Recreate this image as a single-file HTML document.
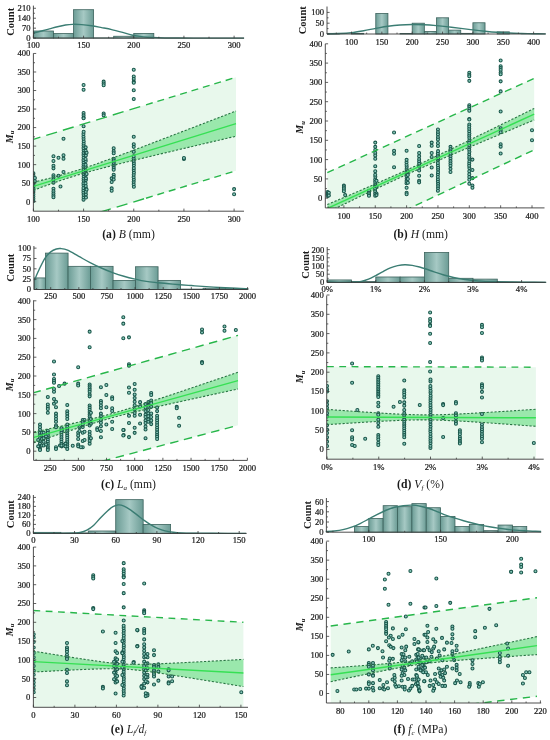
<!DOCTYPE html><html><head><meta charset="utf-8"><title>Figure</title><style>html,body{margin:0;padding:0;background:#fff}svg{display:block}</style></head><body><svg width="550" height="740" viewBox="0 0 550 740" font-family="'Liberation Serif', serif" fill="#1a1a1a">
<defs><linearGradient id="bg" x1="0" x2="1" y1="0" y2="0"><stop offset="0" stop-color="#6b9c95"/><stop offset="0.5" stop-color="#a6c9c4"/><stop offset="1" stop-color="#6b9c95"/></linearGradient></defs>
<rect width="550" height="740" fill="#fff"/>
<g>
<rect x="33.4" y="31" width="20.07" height="7.1" fill="url(#bg)" stroke="#3c635d" stroke-width="0.8"/>
<rect x="53.47" y="33.56" width="20.07" height="4.54" fill="url(#bg)" stroke="#3c635d" stroke-width="0.8"/>
<rect x="73.54" y="9.7" width="20.07" height="28.4" fill="url(#bg)" stroke="#3c635d" stroke-width="0.8"/>
<rect x="93.61" y="37.89" width="20.07" height="0.21" fill="url(#bg)" stroke="#3c635d" stroke-width="0.8"/>
<rect x="113.68" y="36.25" width="20.07" height="1.85" fill="url(#bg)" stroke="#3c635d" stroke-width="0.8"/>
<rect x="133.75" y="33.41" width="20.07" height="4.69" fill="url(#bg)" stroke="#3c635d" stroke-width="0.8"/>
<path d="M33.4 32.99C34.74 32.66 38.75 31.69 41.43 31C44.1 30.31 46.78 29.58 49.46 28.87C52.13 28.16 54.81 27.38 57.48 26.74C60.16 26.1 63 25.44 65.51 25.04C68.02 24.63 69.86 24.4 72.54 24.33C75.21 24.26 78.39 24.37 81.57 24.61C84.75 24.85 88.26 25.25 91.6 25.75C94.95 26.24 98.29 26.95 101.64 27.59C104.98 28.23 108.33 28.82 111.67 29.58C115.02 30.34 118.36 31.24 121.71 32.14C125.05 33.04 128.73 34.27 131.74 34.98C134.75 35.69 137.1 36.02 139.77 36.4C142.45 36.77 144.79 37.02 147.8 37.25C150.81 37.47 153.49 37.61 157.83 37.75C162.18 37.88 167.87 37.97 173.89 38.03C179.91 38.09 182.25 38.09 193.96 38.1C205.67 38.11 235.77 38.1 244.14 38.1" fill="none" stroke="#3b7d73" stroke-width="1.4"/>
<path d="M33.4 5.6V38.1H244" fill="none" stroke="#3a3a3a" stroke-width="0.9"/>
<text x="30.5" y="41" font-size="8.6" text-anchor="end" stroke="#1a1a1a" stroke-width="0.22" >0</text>
<text x="30.5" y="31.06" font-size="8.6" text-anchor="end" stroke="#1a1a1a" stroke-width="0.22" >70</text>
<text x="30.5" y="21.12" font-size="8.6" text-anchor="end" stroke="#1a1a1a" stroke-width="0.22" >140</text>
<text x="30.5" y="11.18" font-size="8.6" text-anchor="end" stroke="#1a1a1a" stroke-width="0.22" >210</text>
<text x="33.4" y="48" font-size="8.6" text-anchor="middle" stroke="#1a1a1a" stroke-width="0.22" >100</text>
<text x="83.58" y="48" font-size="8.6" text-anchor="middle" stroke="#1a1a1a" stroke-width="0.22" >150</text>
<text x="133.75" y="48" font-size="8.6" text-anchor="middle" stroke="#1a1a1a" stroke-width="0.22" >200</text>
<text x="183.93" y="48" font-size="8.6" text-anchor="middle" stroke="#1a1a1a" stroke-width="0.22" >250</text>
<text x="234.1" y="48" font-size="8.6" text-anchor="middle" stroke="#1a1a1a" stroke-width="0.22" >300</text>
<path d="M33.4 38.1h2.6M33.4 28.16h2.6M33.4 18.22h2.6M33.4 8.28h2.6M33.4 33.13h1.5M33.4 23.19h1.5M33.4 13.25h1.5M33.4 38.1v-2.4M83.58 38.1v-2.4M133.75 38.1v-2.4M183.93 38.1v-2.4M234.1 38.1v-2.4M58.49 38.1v-1.4M108.66 38.1v-1.4M158.84 38.1v-1.4M209.01 38.1v-1.4" stroke="#3a3a3a" stroke-width="0.8" fill="none"/>
<text transform="translate(13.8 21.85) rotate(-90)" font-size="10.5" font-weight="bold" text-anchor="middle">Count</text>
</g>
<clipPath id="cpa"><rect x="33.4" y="50.4" width="212.6" height="160.8"/></clipPath>
<g clip-path="url(#cpa)">
<path d="M33.4 139.3 L38.46 137.75 L43.53 136.2 L48.59 134.65 L53.66 133.1 L58.72 131.55 L63.79 130 L68.85 128.45 L73.92 126.9 L78.98 125.35 L84.05 123.8 L89.11 122.25 L94.18 120.7 L99.25 119.15 L104.31 117.6 L109.38 116.05 L114.44 114.5 L119.5 112.95 L124.57 111.4 L129.63 109.85 L134.7 108.3 L139.76 106.75 L144.83 105.2 L149.9 103.65 L154.96 102.1 L160.03 100.55 L165.09 99 L170.16 97.45 L175.22 95.9 L180.28 94.35 L185.35 92.8 L190.41 91.25 L195.48 89.7 L200.55 88.15 L205.61 86.6 L210.68 85.05 L215.74 83.5 L220.81 81.95 L225.87 80.4 L230.94 78.85 L236 77.3 L236 170.8 L230.94 172.34 L225.87 173.89 L220.81 175.43 L215.74 176.97 L210.68 178.51 L205.61 180.06 L200.55 181.6 L195.48 183.14 L190.41 184.68 L185.35 186.23 L180.28 187.77 L175.22 189.31 L170.16 190.85 L165.09 192.4 L160.03 193.94 L154.96 195.48 L149.9 197.02 L144.83 198.57 L139.76 200.11 L134.7 201.65 L129.63 203.19 L124.57 204.74 L119.5 206.28 L114.44 207.82 L109.38 209.36 L104.31 210.91 L99.25 211.2 L94.18 211.2 L89.11 211.2 L84.05 211.2 L78.98 211.2 L73.92 211.2 L68.85 211.2 L63.79 211.2 L58.72 211.2 L53.66 211.2 L48.59 211.2 L43.53 211.2 L38.46 211.2 L33.4 211.2Z" fill="#e8f8ec"/>
<path d="M33.4 182.3 L38.46 181.03 L43.53 179.75 L48.59 178.45 L53.66 177.12 L58.72 175.75 L63.79 174.34 L68.85 172.87 L73.92 171.35 L78.98 169.76 L84.05 168.12 L89.11 166.42 L94.18 164.67 L99.25 162.88 L104.31 161.06 L109.38 159.21 L114.44 157.35 L119.5 155.47 L124.57 153.58 L129.63 151.68 L134.7 149.77 L139.76 147.86 L144.83 145.94 L149.9 144.01 L154.96 142.08 L160.03 140.15 L165.09 138.22 L170.16 136.28 L175.22 134.34 L180.28 132.4 L185.35 130.46 L190.41 128.52 L195.48 126.58 L200.55 124.63 L205.61 122.69 L210.68 120.74 L215.74 118.79 L220.81 116.85 L225.87 114.9 L230.94 112.95 L236 111 L236 136.2 L230.94 137.38 L225.87 138.57 L220.81 139.76 L215.74 140.95 L210.68 142.13 L205.61 143.32 L200.55 144.51 L195.48 145.7 L190.41 146.89 L185.35 148.09 L180.28 149.28 L175.22 150.48 L170.16 151.67 L165.09 152.87 L160.03 154.07 L154.96 155.28 L149.9 156.48 L144.83 157.69 L139.76 158.91 L134.7 160.13 L129.63 161.36 L124.57 162.59 L119.5 163.83 L114.44 165.09 L109.38 166.36 L104.31 167.65 L99.25 168.97 L94.18 170.31 L89.11 171.7 L84.05 173.13 L78.98 174.62 L73.92 176.17 L68.85 177.78 L63.79 179.45 L58.72 181.18 L53.66 182.94 L48.59 184.75 L43.53 186.58 L38.46 188.43 L33.4 190.3Z" fill="#9ae8ac"/>
</g>
<g clip-path="url(#cpa)" fill="#8acabc" stroke="#1a564a" stroke-width="1.05">
<circle cx="33.4" cy="200.96" r="1.5"/>
<circle cx="33.4" cy="198.74" r="1.5"/>
<circle cx="33.4" cy="196.51" r="1.5"/>
<circle cx="33.4" cy="194.29" r="1.5"/>
<circle cx="33.4" cy="192.06" r="1.5"/>
<circle cx="33.4" cy="190.21" r="1.5"/>
<circle cx="33.4" cy="188.36" r="1.5"/>
<circle cx="33.4" cy="186.51" r="1.5"/>
<circle cx="33.4" cy="184.65" r="1.5"/>
<circle cx="33.4" cy="182.8" r="1.5"/>
<circle cx="33.4" cy="180.95" r="1.5"/>
<circle cx="33.4" cy="179.09" r="1.5"/>
<circle cx="33.4" cy="177.24" r="1.5"/>
<circle cx="33.4" cy="175.39" r="1.5"/>
<circle cx="33.4" cy="173.16" r="1.5"/>
<circle cx="34.91" cy="177.98" r="1.5"/>
<circle cx="34.91" cy="181.32" r="1.5"/>
<circle cx="53.47" cy="156.23" r="1.5"/>
<circle cx="53.47" cy="160.93" r="1.5"/>
<circle cx="53.47" cy="165.75" r="1.5"/>
<circle cx="53.47" cy="168.35" r="1.5"/>
<circle cx="53.47" cy="175.17" r="1.5"/>
<circle cx="53.47" cy="177.24" r="1.5"/>
<circle cx="53.47" cy="179.46" r="1.5"/>
<circle cx="53.47" cy="182.8" r="1.5"/>
<circle cx="53.47" cy="188.73" r="1.5"/>
<circle cx="53.47" cy="191.32" r="1.5"/>
<circle cx="53.47" cy="193.55" r="1.5"/>
<circle cx="53.47" cy="195.4" r="1.5"/>
<circle cx="53.47" cy="197.25" r="1.5"/>
<circle cx="58.49" cy="157.75" r="1.5"/>
<circle cx="58.49" cy="175.76" r="1.5"/>
<circle cx="60.49" cy="186.51" r="1.5"/>
<circle cx="63.5" cy="138.7" r="1.5"/>
<circle cx="63.5" cy="155.19" r="1.5"/>
<circle cx="63.5" cy="158.71" r="1.5"/>
<circle cx="63.5" cy="172.05" r="1.5"/>
<circle cx="83.58" cy="84.96" r="1.5"/>
<circle cx="83.58" cy="89.78" r="1.5"/>
<circle cx="83.58" cy="112.94" r="1.5"/>
<circle cx="83.58" cy="115.35" r="1.5"/>
<circle cx="83.58" cy="117.57" r="1.5"/>
<circle cx="83.58" cy="118.31" r="1.5"/>
<circle cx="83.58" cy="126.25" r="1.5"/>
<circle cx="83.53" cy="199.64" r="1.5"/>
<circle cx="83.61" cy="197.34" r="1.5"/>
<circle cx="83.58" cy="194.87" r="1.5"/>
<circle cx="83.47" cy="192.47" r="1.5"/>
<circle cx="83.46" cy="190.17" r="1.5"/>
<circle cx="83.47" cy="187.99" r="1.5"/>
<circle cx="83.56" cy="185.32" r="1.5"/>
<circle cx="83.48" cy="183.26" r="1.5"/>
<circle cx="83.61" cy="180.59" r="1.5"/>
<circle cx="83.59" cy="178.51" r="1.5"/>
<circle cx="83.69" cy="176.34" r="1.5"/>
<circle cx="83.66" cy="173.89" r="1.5"/>
<circle cx="83.49" cy="171.64" r="1.5"/>
<circle cx="83.53" cy="168.98" r="1.5"/>
<circle cx="83.5" cy="166.75" r="1.5"/>
<circle cx="83.61" cy="164.51" r="1.5"/>
<circle cx="83.59" cy="162.32" r="1.5"/>
<circle cx="83.47" cy="159.92" r="1.5"/>
<circle cx="83.62" cy="157.48" r="1.5"/>
<circle cx="83.53" cy="155.08" r="1.5"/>
<circle cx="83.56" cy="152.87" r="1.5"/>
<circle cx="83.65" cy="150.35" r="1.5"/>
<circle cx="83.51" cy="148.08" r="1.5"/>
<circle cx="83.58" cy="145.6" r="1.5"/>
<circle cx="83.63" cy="143.54" r="1.5"/>
<circle cx="83.69" cy="141.29" r="1.5"/>
<circle cx="83.56" cy="138.65" r="1.5"/>
<circle cx="83.49" cy="136.44" r="1.5"/>
<circle cx="83.46" cy="134.02" r="1.5"/>
<circle cx="83.64" cy="131.73" r="1.5"/>
<circle cx="85.97" cy="197.51" r="1.5"/>
<circle cx="85.88" cy="194.38" r="1.5"/>
<circle cx="85.82" cy="191.83" r="1.5"/>
<circle cx="85.95" cy="188.42" r="1.5"/>
<circle cx="85.77" cy="186.06" r="1.5"/>
<circle cx="85.56" cy="183.26" r="1.5"/>
<circle cx="85.86" cy="180.12" r="1.5"/>
<circle cx="85.94" cy="178.35" r="1.5"/>
<circle cx="85.73" cy="175.08" r="1.5"/>
<circle cx="85.54" cy="172.62" r="1.5"/>
<circle cx="85.62" cy="170.35" r="1.5"/>
<circle cx="85.56" cy="166.72" r="1.5"/>
<circle cx="85.6" cy="164.69" r="1.5"/>
<circle cx="85.73" cy="161.09" r="1.5"/>
<circle cx="85.57" cy="158.93" r="1.5"/>
<circle cx="85.81" cy="155.59" r="1.5"/>
<circle cx="85.94" cy="152.87" r="1.5"/>
<circle cx="85.67" cy="150.75" r="1.5"/>
<circle cx="85.71" cy="147.36" r="1.5"/>
<circle cx="86.59" cy="152.78" r="1.5"/>
<circle cx="86.59" cy="173.91" r="1.5"/>
<circle cx="86.59" cy="189.47" r="1.5"/>
<circle cx="103.65" cy="81.63" r="1.5"/>
<circle cx="103.65" cy="83.55" r="1.5"/>
<circle cx="103.65" cy="85.33" r="1.5"/>
<circle cx="103.65" cy="113.5" r="1.5"/>
<circle cx="103.65" cy="115.35" r="1.5"/>
<circle cx="111.67" cy="178.35" r="1.5"/>
<circle cx="111.67" cy="182.06" r="1.5"/>
<circle cx="111.67" cy="188.36" r="1.5"/>
<circle cx="111.67" cy="190.77" r="1.5"/>
<circle cx="113.68" cy="148.33" r="1.5"/>
<circle cx="113.68" cy="151.3" r="1.5"/>
<circle cx="113.68" cy="153.15" r="1.5"/>
<circle cx="113.68" cy="158.71" r="1.5"/>
<circle cx="113.68" cy="160.56" r="1.5"/>
<circle cx="113.68" cy="162.42" r="1.5"/>
<circle cx="113.68" cy="164.27" r="1.5"/>
<circle cx="113.68" cy="166.12" r="1.5"/>
<circle cx="113.68" cy="167.98" r="1.5"/>
<circle cx="113.68" cy="169.83" r="1.5"/>
<circle cx="113.68" cy="174.65" r="1.5"/>
<circle cx="113.68" cy="176.87" r="1.5"/>
<circle cx="113.68" cy="179.46" r="1.5"/>
<circle cx="133.75" cy="69.77" r="1.5"/>
<circle cx="133.75" cy="76.55" r="1.5"/>
<circle cx="133.75" cy="79.03" r="1.5"/>
<circle cx="133.75" cy="81.63" r="1.5"/>
<circle cx="133.75" cy="82.74" r="1.5"/>
<circle cx="133.75" cy="90.33" r="1.5"/>
<circle cx="133.75" cy="99.04" r="1.5"/>
<circle cx="133.75" cy="136.84" r="1.5"/>
<circle cx="133.75" cy="144.26" r="1.5"/>
<circle cx="133.75" cy="146.85" r="1.5"/>
<circle cx="133.75" cy="151.67" r="1.5"/>
<circle cx="133.86" cy="186.67" r="1.5"/>
<circle cx="133.67" cy="184.3" r="1.5"/>
<circle cx="133.69" cy="181.84" r="1.5"/>
<circle cx="133.77" cy="179.61" r="1.5"/>
<circle cx="133.63" cy="177.2" r="1.5"/>
<circle cx="133.72" cy="174.8" r="1.5"/>
<circle cx="133.86" cy="172.41" r="1.5"/>
<circle cx="133.75" cy="170.11" r="1.5"/>
<circle cx="133.79" cy="168.04" r="1.5"/>
<circle cx="133.85" cy="165.36" r="1.5"/>
<circle cx="133.84" cy="163.02" r="1.5"/>
<circle cx="133.72" cy="160.87" r="1.5"/>
<circle cx="133.65" cy="158.43" r="1.5"/>
<circle cx="133.64" cy="156.36" r="1.5"/>
<circle cx="183.93" cy="159.08" r="1.5"/>
<circle cx="183.93" cy="157.97" r="1.5"/>
<circle cx="234.1" cy="189.1" r="1.5"/>
<circle cx="234.1" cy="194.29" r="1.5"/>
</g>
<g clip-path="url(#cpa)">
<path d="M33.4 182.3 L38.46 181.03 L43.53 179.75 L48.59 178.45 L53.66 177.12 L58.72 175.75 L63.79 174.34 L68.85 172.87 L73.92 171.35 L78.98 169.76 L84.05 168.12 L89.11 166.42 L94.18 164.67 L99.25 162.88 L104.31 161.06 L109.38 159.21 L114.44 157.35 L119.5 155.47 L124.57 153.58 L129.63 151.68 L134.7 149.77 L139.76 147.86 L144.83 145.94 L149.9 144.01 L154.96 142.08 L160.03 140.15 L165.09 138.22 L170.16 136.28 L175.22 134.34 L180.28 132.4 L185.35 130.46 L190.41 128.52 L195.48 126.58 L200.55 124.63 L205.61 122.69 L210.68 120.74 L215.74 118.79 L220.81 116.85 L225.87 114.9 L230.94 112.95 L236 111" fill="none" stroke="#2a7444" stroke-width="1.1" stroke-dasharray="2.2 1.7"/>
<path d="M33.4 190.3 L38.46 188.43 L43.53 186.58 L48.59 184.75 L53.66 182.94 L58.72 181.18 L63.79 179.45 L68.85 177.78 L73.92 176.17 L78.98 174.62 L84.05 173.13 L89.11 171.7 L94.18 170.31 L99.25 168.97 L104.31 167.65 L109.38 166.36 L114.44 165.09 L119.5 163.83 L124.57 162.59 L129.63 161.36 L134.7 160.13 L139.76 158.91 L144.83 157.69 L149.9 156.48 L154.96 155.28 L160.03 154.07 L165.09 152.87 L170.16 151.67 L175.22 150.48 L180.28 149.28 L185.35 148.09 L190.41 146.89 L195.48 145.7 L200.55 144.51 L205.61 143.32 L210.68 142.13 L215.74 140.95 L220.81 139.76 L225.87 138.57 L230.94 137.38 L236 136.2" fill="none" stroke="#2a7444" stroke-width="1.1" stroke-dasharray="2.2 1.7"/>
<path d="M33.4 186.3L236 123.6" stroke="#36e054" stroke-width="1.4"/>
<path d="M33.4 139.3L146 104.84" fill="none" stroke="#27b64a" stroke-width="1.4" stroke-dasharray="11.3 6.1" stroke-dashoffset="4"/>
<path d="M33.4 232.5L146 198.21" fill="none" stroke="#27b64a" stroke-width="1.4" stroke-dasharray="11.3 6.1" stroke-dashoffset="0"/>
<path d="M146 104.84L236 77.3" fill="none" stroke="#27b64a" stroke-width="1.4" stroke-dasharray="7 4.9" stroke-dashoffset="0"/>
<path d="M146 198.21L236 170.8" fill="none" stroke="#27b64a" stroke-width="1.4" stroke-dasharray="7 4.9" stroke-dashoffset="0"/>
</g>
<path d="M33.4 53.4V211.2H244" fill="none" stroke="#3a3a3a" stroke-width="0.9"/>
<text x="30.4" y="204.6" font-size="8.6" text-anchor="end" stroke="#1a1a1a" stroke-width="0.22" >0</text>
<text x="30.4" y="186.07" font-size="8.6" text-anchor="end" stroke="#1a1a1a" stroke-width="0.22" >50</text>
<text x="30.4" y="167.54" font-size="8.6" text-anchor="end" stroke="#1a1a1a" stroke-width="0.22" >100</text>
<text x="30.4" y="149.01" font-size="8.6" text-anchor="end" stroke="#1a1a1a" stroke-width="0.22" >150</text>
<text x="30.4" y="130.48" font-size="8.6" text-anchor="end" stroke="#1a1a1a" stroke-width="0.22" >200</text>
<text x="30.4" y="111.95" font-size="8.6" text-anchor="end" stroke="#1a1a1a" stroke-width="0.22" >250</text>
<text x="30.4" y="93.42" font-size="8.6" text-anchor="end" stroke="#1a1a1a" stroke-width="0.22" >300</text>
<text x="30.4" y="74.89" font-size="8.6" text-anchor="end" stroke="#1a1a1a" stroke-width="0.22" >350</text>
<text x="30.4" y="56.36" font-size="8.6" text-anchor="end" stroke="#1a1a1a" stroke-width="0.22" >400</text>
<text x="33.4" y="222.1" font-size="8.6" text-anchor="middle" stroke="#1a1a1a" stroke-width="0.22" >100</text>
<text x="83.58" y="222.1" font-size="8.6" text-anchor="middle" stroke="#1a1a1a" stroke-width="0.22" >150</text>
<text x="133.75" y="222.1" font-size="8.6" text-anchor="middle" stroke="#1a1a1a" stroke-width="0.22" >200</text>
<text x="183.93" y="222.1" font-size="8.6" text-anchor="middle" stroke="#1a1a1a" stroke-width="0.22" >250</text>
<text x="234.1" y="222.1" font-size="8.6" text-anchor="middle" stroke="#1a1a1a" stroke-width="0.22" >300</text>
<path d="M33.4 201.7h2.8M33.4 183.17h2.8M33.4 164.64h2.8M33.4 146.11h2.8M33.4 127.58h2.8M33.4 109.05h2.8M33.4 90.52h2.8M33.4 71.99h2.8M33.4 53.46h2.8M33.4 192.44h1.6M33.4 173.91h1.6M33.4 155.38h1.6M33.4 136.84h1.6M33.4 118.31h1.6M33.4 99.78h1.6M33.4 81.25h1.6M33.4 62.72h1.6M33.4 211.2v-2.6M83.58 211.2v-2.6M133.75 211.2v-2.6M183.93 211.2v-2.6M234.1 211.2v-2.6M58.49 211.2v-1.5M108.66 211.2v-1.5M158.84 211.2v-1.5M209.01 211.2v-1.5" stroke="#3a3a3a" stroke-width="0.8" fill="none"/>
<text transform="translate(12.5 137) rotate(-90)" font-size="10" font-weight="bold" font-style="italic" text-anchor="middle">M<tspan font-size="6.5" dy="1.5">u</tspan></text>
<text x="128.5" y="238.2" font-size="11.7" text-anchor="middle"><tspan font-weight="bold">(a)</tspan> <tspan font-style="italic">B</tspan> (mm)</text>
<g>
<rect x="375.78" y="13.48" width="12.14" height="20.52" fill="url(#bg)" stroke="#3c635d" stroke-width="0.8"/>
<rect x="412.2" y="23.2" width="12.14" height="10.8" fill="url(#bg)" stroke="#3c635d" stroke-width="0.8"/>
<rect x="424.34" y="31.41" width="12.14" height="2.59" fill="url(#bg)" stroke="#3c635d" stroke-width="0.8"/>
<rect x="436.48" y="17.8" width="12.14" height="16.2" fill="url(#bg)" stroke="#3c635d" stroke-width="0.8"/>
<rect x="448.62" y="30.11" width="12.14" height="3.89" fill="url(#bg)" stroke="#3c635d" stroke-width="0.8"/>
<rect x="460.76" y="33.35" width="12.14" height="0.65" fill="url(#bg)" stroke="#3c635d" stroke-width="0.8"/>
<rect x="472.9" y="22.77" width="12.14" height="11.23" fill="url(#bg)" stroke="#3c635d" stroke-width="0.8"/>
<rect x="497.18" y="31.84" width="12.14" height="2.16" fill="url(#bg)" stroke="#3c635d" stroke-width="0.8"/>
<rect x="327.22" y="33.35" width="12.14" height="0.65" fill="url(#bg)" stroke="#3c635d" stroke-width="0.8"/>
<rect x="351.5" y="33.35" width="12.14" height="0.65" fill="url(#bg)" stroke="#3c635d" stroke-width="0.8"/>
<rect x="400.06" y="33.57" width="12.14" height="0.43" fill="url(#bg)" stroke="#3c635d" stroke-width="0.8"/>
<path d="M327.22 33.78C329.24 33.75 335.31 33.75 339.36 33.57C343.41 33.39 347.45 33.17 351.5 32.7C355.55 32.24 359.59 31.48 363.64 30.76C367.69 30.04 371.73 29.14 375.78 28.38C379.83 27.63 383.87 26.8 387.92 26.22C391.97 25.65 396.01 25.22 400.06 24.93C404.11 24.64 408.15 24.53 412.2 24.5C416.25 24.46 420.29 24.53 424.34 24.71C428.39 24.89 432.43 25.22 436.48 25.58C440.53 25.94 444.57 26.4 448.62 26.87C452.67 27.34 456.71 27.88 460.76 28.38C464.81 28.89 468.85 29.43 472.9 29.9C476.95 30.36 480.99 30.8 485.04 31.19C489.09 31.59 493.13 31.97 497.18 32.27C501.23 32.58 505.27 32.83 509.32 33.03C513.37 33.23 517.41 33.34 521.46 33.46C525.51 33.58 529.55 33.67 533.6 33.74C537.65 33.81 543.72 33.87 545.74 33.89" fill="none" stroke="#3b7d73" stroke-width="1.4"/>
<path d="M327 6.5V34H545.7" fill="none" stroke="#3a3a3a" stroke-width="0.9"/>
<text x="324.1" y="36.9" font-size="8.6" text-anchor="end" stroke="#1a1a1a" stroke-width="0.22" >0</text>
<text x="324.1" y="26.1" font-size="8.6" text-anchor="end" stroke="#1a1a1a" stroke-width="0.22" >50</text>
<text x="324.1" y="15.3" font-size="8.6" text-anchor="end" stroke="#1a1a1a" stroke-width="0.22" >100</text>
<text x="351.5" y="44.5" font-size="8.6" text-anchor="middle" stroke="#1a1a1a" stroke-width="0.22" >100</text>
<text x="381.85" y="44.5" font-size="8.6" text-anchor="middle" stroke="#1a1a1a" stroke-width="0.22" >150</text>
<text x="412.2" y="44.5" font-size="8.6" text-anchor="middle" stroke="#1a1a1a" stroke-width="0.22" >200</text>
<text x="442.55" y="44.5" font-size="8.6" text-anchor="middle" stroke="#1a1a1a" stroke-width="0.22" >250</text>
<text x="472.9" y="44.5" font-size="8.6" text-anchor="middle" stroke="#1a1a1a" stroke-width="0.22" >300</text>
<text x="503.25" y="44.5" font-size="8.6" text-anchor="middle" stroke="#1a1a1a" stroke-width="0.22" >350</text>
<text x="533.6" y="44.5" font-size="8.6" text-anchor="middle" stroke="#1a1a1a" stroke-width="0.22" >400</text>
<path d="M327 34h2.6M327 23.2h2.6M327 12.4h2.6M327 28.6h1.5M327 17.8h1.5M351.5 34v-2.4M381.85 34v-2.4M412.2 34v-2.4M442.55 34v-2.4M472.9 34v-2.4M503.25 34v-2.4M533.6 34v-2.4M336.32 34v-1.4M366.68 34v-1.4M397.02 34v-1.4M427.38 34v-1.4M457.73 34v-1.4M488.07 34v-1.4M518.42 34v-1.4" stroke="#3a3a3a" stroke-width="0.8" fill="none"/>
<text transform="translate(306 20.25) rotate(-90)" font-size="10.5" font-weight="bold" text-anchor="middle">Count</text>
</g>
<clipPath id="cpb"><rect x="325.3" y="40.9" width="221.2" height="167"/></clipPath>
<g clip-path="url(#cpb)">
<path d="M327.3 172.66 L332.47 170.3 L337.65 167.95 L342.82 165.59 L347.99 163.23 L353.16 160.87 L358.34 158.51 L363.51 156.15 L368.68 153.79 L373.85 151.43 L379.03 149.07 L384.2 146.71 L389.37 144.35 L394.54 142 L399.72 139.64 L404.89 137.28 L410.06 134.92 L415.23 132.56 L420.41 130.2 L425.58 127.84 L430.75 125.48 L435.92 123.12 L441.1 120.76 L446.27 118.4 L451.44 116.05 L456.61 113.69 L461.79 111.33 L466.96 108.97 L472.13 106.61 L477.3 104.25 L482.48 101.89 L487.65 99.53 L492.82 97.17 L497.99 94.81 L503.17 92.45 L508.34 90.1 L513.51 87.74 L518.68 85.38 L523.86 83.02 L529.03 80.66 L534.2 78.3 L534.2 149.8 L529.03 152.23 L523.86 154.66 L518.68 157.09 L513.51 159.52 L508.34 161.95 L503.17 164.38 L497.99 166.81 L492.82 169.24 L487.65 171.66 L482.48 174.09 L477.3 176.52 L472.13 178.95 L466.96 181.38 L461.79 183.81 L456.61 186.24 L451.44 188.67 L446.27 191.1 L441.1 193.53 L435.92 195.96 L430.75 198.39 L425.58 200.82 L420.41 203.25 L415.23 205.68 L410.06 207.9 L404.89 207.9 L399.72 207.9 L394.54 207.9 L389.37 207.9 L384.2 207.9 L379.03 207.9 L373.85 207.9 L368.68 207.9 L363.51 207.9 L358.34 207.9 L353.16 207.9 L347.99 207.9 L342.82 207.9 L337.65 207.9 L332.47 207.9 L327.3 207.9Z" fill="#e8f8ec"/>
<path d="M327.3 204.52 L332.47 202.33 L337.65 200.14 L342.82 197.95 L347.99 195.75 L353.16 193.54 L358.34 191.32 L363.51 189.1 L368.68 186.86 L373.85 184.62 L379.03 182.36 L384.2 180.08 L389.37 177.79 L394.54 175.49 L399.72 173.16 L404.89 170.81 L410.06 168.45 L415.23 166.06 L420.41 163.66 L425.58 161.23 L430.75 158.8 L435.92 156.34 L441.1 153.88 L446.27 151.4 L451.44 148.91 L456.61 146.41 L461.79 143.91 L466.96 141.4 L472.13 138.88 L477.3 136.36 L482.48 133.83 L487.65 131.3 L492.82 128.76 L497.99 126.22 L503.17 123.68 L508.34 121.14 L513.51 118.59 L518.68 116.05 L523.86 113.5 L529.03 110.95 L534.2 108.4 L534.2 120 L529.03 122.16 L523.86 124.33 L518.68 126.49 L513.51 128.66 L508.34 130.83 L503.17 133 L497.99 135.17 L492.82 137.34 L487.65 139.52 L482.48 141.7 L477.3 143.89 L472.13 146.08 L466.96 148.27 L461.79 150.48 L456.61 152.68 L451.44 154.9 L446.27 157.12 L441.1 159.36 L435.92 161.61 L430.75 163.87 L425.58 166.14 L420.41 168.43 L415.23 170.74 L410.06 173.07 L404.89 175.42 L399.72 177.78 L394.54 180.17 L389.37 182.57 L384.2 185 L379.03 187.44 L373.85 189.89 L368.68 192.36 L363.51 194.84 L358.34 197.32 L353.16 199.82 L347.99 202.33 L342.82 204.84 L337.65 207.36 L332.47 209.88 L327.3 212.41Z" fill="#9ae8ac"/>
</g>
<g clip-path="url(#cpb)" fill="#8acabc" stroke="#1a564a" stroke-width="1.05">
<circle cx="327.6" cy="192.02" r="1.5"/>
<circle cx="327.6" cy="193.57" r="1.5"/>
<circle cx="327.6" cy="194.73" r="1.5"/>
<circle cx="327.6" cy="195.88" r="1.5"/>
<circle cx="328.85" cy="192.8" r="1.5"/>
<circle cx="328.85" cy="195.5" r="1.5"/>
<circle cx="343.9" cy="185.62" r="1.5"/>
<circle cx="343.9" cy="187.39" r="1.5"/>
<circle cx="343.9" cy="189.32" r="1.5"/>
<circle cx="343.9" cy="191.25" r="1.5"/>
<circle cx="345.15" cy="195.11" r="1.5"/>
<circle cx="368.98" cy="190.67" r="1.5"/>
<circle cx="368.98" cy="192.8" r="1.5"/>
<circle cx="368.98" cy="194.34" r="1.5"/>
<circle cx="368.98" cy="195.69" r="1.5"/>
<circle cx="375.25" cy="142.62" r="1.5"/>
<circle cx="375.25" cy="146.86" r="1.5"/>
<circle cx="375.25" cy="149.95" r="1.5"/>
<circle cx="375.25" cy="153.04" r="1.5"/>
<circle cx="375.25" cy="155.47" r="1.5"/>
<circle cx="375.25" cy="158.83" r="1.5"/>
<circle cx="375.25" cy="166.16" r="1.5"/>
<circle cx="375.25" cy="171.18" r="1.5"/>
<circle cx="375.18" cy="195.65" r="1.5"/>
<circle cx="375.21" cy="193.39" r="1.5"/>
<circle cx="375.13" cy="191.03" r="1.5"/>
<circle cx="375.15" cy="188.61" r="1.5"/>
<circle cx="375.14" cy="186.06" r="1.5"/>
<circle cx="375.28" cy="184.08" r="1.5"/>
<circle cx="375.19" cy="181.67" r="1.5"/>
<circle cx="375.22" cy="179.46" r="1.5"/>
<circle cx="375.33" cy="176.74" r="1.5"/>
<circle cx="375.24" cy="174.66" r="1.5"/>
<circle cx="376.5" cy="180.83" r="1.5"/>
<circle cx="376.5" cy="186.62" r="1.5"/>
<circle cx="376.5" cy="193.57" r="1.5"/>
<circle cx="376.5" cy="195.11" r="1.5"/>
<circle cx="394.06" cy="132.58" r="1.5"/>
<circle cx="394.06" cy="150.72" r="1.5"/>
<circle cx="394.06" cy="153.81" r="1.5"/>
<circle cx="394.06" cy="167.32" r="1.5"/>
<circle cx="406.6" cy="150.72" r="1.5"/>
<circle cx="406.6" cy="187.78" r="1.5"/>
<circle cx="406.6" cy="192.8" r="1.5"/>
<circle cx="406.6" cy="194.34" r="1.5"/>
<circle cx="406.5" cy="183.33" r="1.5"/>
<circle cx="406.56" cy="180.94" r="1.5"/>
<circle cx="406.68" cy="178.67" r="1.5"/>
<circle cx="406.49" cy="175.99" r="1.5"/>
<circle cx="406.61" cy="174.05" r="1.5"/>
<circle cx="406.61" cy="171.79" r="1.5"/>
<circle cx="406.61" cy="169.03" r="1.5"/>
<circle cx="406.69" cy="166.84" r="1.5"/>
<circle cx="406.54" cy="164.68" r="1.5"/>
<circle cx="406.52" cy="162.18" r="1.5"/>
<circle cx="406.61" cy="159.86" r="1.5"/>
<circle cx="407.85" cy="171.18" r="1.5"/>
<circle cx="407.85" cy="175.04" r="1.5"/>
<circle cx="407.85" cy="178.9" r="1.5"/>
<circle cx="407.85" cy="182.76" r="1.5"/>
<circle cx="419.14" cy="146.09" r="1.5"/>
<circle cx="419.14" cy="153.04" r="1.5"/>
<circle cx="419.14" cy="156.13" r="1.5"/>
<circle cx="419.14" cy="159.21" r="1.5"/>
<circle cx="419.14" cy="161.53" r="1.5"/>
<circle cx="419.14" cy="163.85" r="1.5"/>
<circle cx="419.14" cy="166.55" r="1.5"/>
<circle cx="419.14" cy="170.41" r="1.5"/>
<circle cx="419.14" cy="175.81" r="1.5"/>
<circle cx="419.14" cy="180.83" r="1.5"/>
<circle cx="419.14" cy="182.37" r="1.5"/>
<circle cx="431.68" cy="142.62" r="1.5"/>
<circle cx="431.68" cy="145.7" r="1.5"/>
<circle cx="431.68" cy="153.04" r="1.5"/>
<circle cx="431.68" cy="156.9" r="1.5"/>
<circle cx="431.68" cy="167.47" r="1.5"/>
<circle cx="431.68" cy="175.5" r="1.5"/>
<circle cx="437.95" cy="129.49" r="1.5"/>
<circle cx="437.95" cy="132.19" r="1.5"/>
<circle cx="437.95" cy="134.51" r="1.5"/>
<circle cx="437.95" cy="137.21" r="1.5"/>
<circle cx="437.95" cy="139.53" r="1.5"/>
<circle cx="437.95" cy="143" r="1.5"/>
<circle cx="437.95" cy="146.09" r="1.5"/>
<circle cx="437.91" cy="190.76" r="1.5"/>
<circle cx="438.02" cy="188.09" r="1.5"/>
<circle cx="438.03" cy="185.86" r="1.5"/>
<circle cx="438.03" cy="183.58" r="1.5"/>
<circle cx="437.88" cy="181.36" r="1.5"/>
<circle cx="437.92" cy="179.27" r="1.5"/>
<circle cx="437.84" cy="176.84" r="1.5"/>
<circle cx="437.89" cy="174.33" r="1.5"/>
<circle cx="438.06" cy="172.13" r="1.5"/>
<circle cx="438.05" cy="169.56" r="1.5"/>
<circle cx="438.06" cy="167.54" r="1.5"/>
<circle cx="437.88" cy="165.28" r="1.5"/>
<circle cx="437.88" cy="162.98" r="1.5"/>
<circle cx="437.98" cy="160.34" r="1.5"/>
<circle cx="438.03" cy="158.22" r="1.5"/>
<circle cx="437.99" cy="155.76" r="1.5"/>
<circle cx="437.85" cy="153.5" r="1.5"/>
<circle cx="438.05" cy="151.13" r="1.5"/>
<circle cx="450.49" cy="146.86" r="1.5"/>
<circle cx="450.49" cy="149.18" r="1.5"/>
<circle cx="450.49" cy="151.49" r="1.5"/>
<circle cx="450.49" cy="153.81" r="1.5"/>
<circle cx="450.49" cy="156.51" r="1.5"/>
<circle cx="450.49" cy="158.83" r="1.5"/>
<circle cx="450.49" cy="161.14" r="1.5"/>
<circle cx="450.49" cy="163.46" r="1.5"/>
<circle cx="450.49" cy="165.78" r="1.5"/>
<circle cx="450.49" cy="168.86" r="1.5"/>
<circle cx="450.49" cy="171.95" r="1.5"/>
<circle cx="469.3" cy="72.75" r="1.5"/>
<circle cx="469.3" cy="74.68" r="1.5"/>
<circle cx="469.3" cy="76.22" r="1.5"/>
<circle cx="469.3" cy="80.86" r="1.5"/>
<circle cx="469.3" cy="105.17" r="1.5"/>
<circle cx="469.3" cy="107.1" r="1.5"/>
<circle cx="469.3" cy="109.03" r="1.5"/>
<circle cx="469.3" cy="110.73" r="1.5"/>
<circle cx="469.3" cy="119.07" r="1.5"/>
<circle cx="469.3" cy="119.46" r="1.5"/>
<circle cx="469.3" cy="124.47" r="1.5"/>
<circle cx="469.3" cy="171.18" r="1.5"/>
<circle cx="469.3" cy="174.27" r="1.5"/>
<circle cx="469.3" cy="176.97" r="1.5"/>
<circle cx="469.3" cy="179.67" r="1.5"/>
<circle cx="469.3" cy="183.72" r="1.5"/>
<circle cx="469.36" cy="168.1" r="1.5"/>
<circle cx="469.22" cy="165.64" r="1.5"/>
<circle cx="469.26" cy="163.32" r="1.5"/>
<circle cx="469.41" cy="161.19" r="1.5"/>
<circle cx="469.28" cy="158.62" r="1.5"/>
<circle cx="469.35" cy="156.66" r="1.5"/>
<circle cx="469.21" cy="154.36" r="1.5"/>
<circle cx="469.4" cy="151.74" r="1.5"/>
<circle cx="469.22" cy="149.41" r="1.5"/>
<circle cx="469.42" cy="147.18" r="1.5"/>
<circle cx="469.26" cy="144.91" r="1.5"/>
<circle cx="469.21" cy="142.84" r="1.5"/>
<circle cx="469.41" cy="140.23" r="1.5"/>
<circle cx="469.31" cy="137.78" r="1.5"/>
<circle cx="469.28" cy="135.5" r="1.5"/>
<circle cx="469.38" cy="133.49" r="1.5"/>
<circle cx="469.24" cy="131.13" r="1.5"/>
<circle cx="469.24" cy="128.68" r="1.5"/>
<circle cx="469.24" cy="126.44" r="1.5"/>
<circle cx="472.43" cy="159.6" r="1.5"/>
<circle cx="472.43" cy="170.02" r="1.5"/>
<circle cx="472.43" cy="178.13" r="1.5"/>
<circle cx="472.43" cy="185.46" r="1.5"/>
<circle cx="472.43" cy="187.78" r="1.5"/>
<circle cx="500.65" cy="60.51" r="1.5"/>
<circle cx="500.65" cy="66.3" r="1.5"/>
<circle cx="500.65" cy="68.12" r="1.5"/>
<circle cx="500.65" cy="70.05" r="1.5"/>
<circle cx="500.65" cy="72.56" r="1.5"/>
<circle cx="500.65" cy="74.29" r="1.5"/>
<circle cx="500.65" cy="81.36" r="1.5"/>
<circle cx="500.65" cy="91.39" r="1.5"/>
<circle cx="500.65" cy="111.47" r="1.5"/>
<circle cx="500.65" cy="128.33" r="1.5"/>
<circle cx="500.65" cy="130.26" r="1.5"/>
<circle cx="500.65" cy="132.19" r="1.5"/>
<circle cx="500.65" cy="144.16" r="1.5"/>
<circle cx="500.65" cy="146.63" r="1.5"/>
<circle cx="500.65" cy="153.42" r="1.5"/>
<circle cx="532" cy="130.26" r="1.5"/>
<circle cx="532" cy="140.3" r="1.5"/>
</g>
<g clip-path="url(#cpb)">
<path d="M327.3 204.52 L332.47 202.33 L337.65 200.14 L342.82 197.95 L347.99 195.75 L353.16 193.54 L358.34 191.32 L363.51 189.1 L368.68 186.86 L373.85 184.62 L379.03 182.36 L384.2 180.08 L389.37 177.79 L394.54 175.49 L399.72 173.16 L404.89 170.81 L410.06 168.45 L415.23 166.06 L420.41 163.66 L425.58 161.23 L430.75 158.8 L435.92 156.34 L441.1 153.88 L446.27 151.4 L451.44 148.91 L456.61 146.41 L461.79 143.91 L466.96 141.4 L472.13 138.88 L477.3 136.36 L482.48 133.83 L487.65 131.3 L492.82 128.76 L497.99 126.22 L503.17 123.68 L508.34 121.14 L513.51 118.59 L518.68 116.05 L523.86 113.5 L529.03 110.95 L534.2 108.4" fill="none" stroke="#2a7444" stroke-width="1.1" stroke-dasharray="2.2 1.7"/>
<path d="M327.3 212.41 L332.47 209.88 L337.65 207.36 L342.82 204.84 L347.99 202.33 L353.16 199.82 L358.34 197.32 L363.51 194.84 L368.68 192.36 L373.85 189.89 L379.03 187.44 L384.2 185 L389.37 182.57 L394.54 180.17 L399.72 177.78 L404.89 175.42 L410.06 173.07 L415.23 170.74 L420.41 168.43 L425.58 166.14 L430.75 163.87 L435.92 161.61 L441.1 159.36 L446.27 157.12 L451.44 154.9 L456.61 152.68 L461.79 150.48 L466.96 148.27 L472.13 146.08 L477.3 143.89 L482.48 141.7 L487.65 139.52 L492.82 137.34 L497.99 135.17 L503.17 133 L508.34 130.83 L513.51 128.66 L518.68 126.49 L523.86 124.33 L529.03 122.16 L534.2 120" fill="none" stroke="#2a7444" stroke-width="1.1" stroke-dasharray="2.2 1.7"/>
<path d="M327.3 208.46L534.2 114.2" stroke="#36e054" stroke-width="1.4"/>
<path d="M327.3 172.66L534.2 78.3" fill="none" stroke="#27b64a" stroke-width="1.4" stroke-dasharray="7.2 5.0" stroke-dashoffset="0"/>
<path d="M327.3 246.98L534.2 149.8" fill="none" stroke="#27b64a" stroke-width="1.4" stroke-dasharray="7.2 5.0" stroke-dashoffset="0"/>
</g>
<path d="M325.3 43.9V207.9H544.5" fill="none" stroke="#3a3a3a" stroke-width="0.9"/>
<text x="322.3" y="201.1" font-size="8.6" text-anchor="end" stroke="#1a1a1a" stroke-width="0.22" >0</text>
<text x="322.3" y="181.8" font-size="8.6" text-anchor="end" stroke="#1a1a1a" stroke-width="0.22" >50</text>
<text x="322.3" y="162.5" font-size="8.6" text-anchor="end" stroke="#1a1a1a" stroke-width="0.22" >100</text>
<text x="322.3" y="143.2" font-size="8.6" text-anchor="end" stroke="#1a1a1a" stroke-width="0.22" >150</text>
<text x="322.3" y="123.9" font-size="8.6" text-anchor="end" stroke="#1a1a1a" stroke-width="0.22" >200</text>
<text x="322.3" y="104.6" font-size="8.6" text-anchor="end" stroke="#1a1a1a" stroke-width="0.22" >250</text>
<text x="322.3" y="85.3" font-size="8.6" text-anchor="end" stroke="#1a1a1a" stroke-width="0.22" >300</text>
<text x="322.3" y="66" font-size="8.6" text-anchor="end" stroke="#1a1a1a" stroke-width="0.22" >350</text>
<text x="322.3" y="46.7" font-size="8.6" text-anchor="end" stroke="#1a1a1a" stroke-width="0.22" >400</text>
<text x="343.9" y="218.8" font-size="8.6" text-anchor="middle" stroke="#1a1a1a" stroke-width="0.22" >100</text>
<text x="375.25" y="218.8" font-size="8.6" text-anchor="middle" stroke="#1a1a1a" stroke-width="0.22" >150</text>
<text x="406.6" y="218.8" font-size="8.6" text-anchor="middle" stroke="#1a1a1a" stroke-width="0.22" >200</text>
<text x="437.95" y="218.8" font-size="8.6" text-anchor="middle" stroke="#1a1a1a" stroke-width="0.22" >250</text>
<text x="469.3" y="218.8" font-size="8.6" text-anchor="middle" stroke="#1a1a1a" stroke-width="0.22" >300</text>
<text x="500.65" y="218.8" font-size="8.6" text-anchor="middle" stroke="#1a1a1a" stroke-width="0.22" >350</text>
<text x="532" y="218.8" font-size="8.6" text-anchor="middle" stroke="#1a1a1a" stroke-width="0.22" >400</text>
<path d="M325.3 198.2h2.8M325.3 178.9h2.8M325.3 159.6h2.8M325.3 140.3h2.8M325.3 121h2.8M325.3 101.7h2.8M325.3 82.4h2.8M325.3 63.1h2.8M325.3 43.8h2.8M325.3 188.55h1.6M325.3 169.25h1.6M325.3 149.95h1.6M325.3 130.65h1.6M325.3 111.35h1.6M325.3 92.05h1.6M325.3 72.75h1.6M325.3 53.45h1.6M343.9 207.9v-2.6M375.25 207.9v-2.6M406.6 207.9v-2.6M437.95 207.9v-2.6M469.3 207.9v-2.6M500.65 207.9v-2.6M532 207.9v-2.6M328.22 207.9v-1.5M359.57 207.9v-1.5M390.92 207.9v-1.5M422.27 207.9v-1.5M453.62 207.9v-1.5M484.97 207.9v-1.5M516.33 207.9v-1.5" stroke="#3a3a3a" stroke-width="0.8" fill="none"/>
<text transform="translate(303 127.5) rotate(-90)" font-size="10" font-weight="bold" font-style="italic" text-anchor="middle">M<tspan font-size="6.5" dy="1.5">u</tspan></text>
<text x="420.7" y="238.2" font-size="11.7" text-anchor="middle"><tspan font-weight="bold">(b)</tspan> <tspan font-style="italic">H</tspan> (mm)</text>
<g>
<rect x="34.33" y="277.92" width="11.25" height="11.58" fill="url(#bg)" stroke="#3c635d" stroke-width="0.8"/>
<rect x="45.58" y="253.1" width="22.5" height="36.4" fill="url(#bg)" stroke="#3c635d" stroke-width="0.8"/>
<rect x="68.08" y="266.34" width="22.5" height="23.16" fill="url(#bg)" stroke="#3c635d" stroke-width="0.8"/>
<rect x="90.58" y="266.34" width="22.5" height="23.16" fill="url(#bg)" stroke="#3c635d" stroke-width="0.8"/>
<rect x="113.08" y="280.4" width="22.5" height="9.1" fill="url(#bg)" stroke="#3c635d" stroke-width="0.8"/>
<rect x="135.57" y="266.75" width="22.5" height="22.75" fill="url(#bg)" stroke="#3c635d" stroke-width="0.8"/>
<rect x="158.07" y="280.4" width="22.5" height="9.1" fill="url(#bg)" stroke="#3c635d" stroke-width="0.8"/>
<rect x="180.57" y="289.09" width="22.5" height="0.41" fill="url(#bg)" stroke="#3c635d" stroke-width="0.8"/>
<rect x="203.07" y="288.26" width="22.5" height="1.24" fill="url(#bg)" stroke="#3c635d" stroke-width="0.8"/>
<rect x="225.57" y="288.67" width="22.5" height="0.83" fill="url(#bg)" stroke="#3c635d" stroke-width="0.8"/>
<path d="M34.39 280.4C35.23 278.47 37.67 272.54 39.45 268.82C41.23 265.1 43.2 260.89 45.08 258.07C46.95 255.24 48.83 253.38 50.7 251.86C52.58 250.35 54.64 249.52 56.33 248.97C58.01 248.42 58.95 248.35 60.83 248.55C62.7 248.76 64.58 248.9 67.58 250.21C70.58 251.52 75.08 254.34 78.83 256.41C82.58 258.48 86.33 260.69 90.08 262.62C93.83 264.55 97.58 266.34 101.33 267.99C105.08 269.65 108.83 271.16 112.58 272.54C116.33 273.92 120.08 275.16 123.83 276.26C127.58 277.37 131.32 278.3 135.07 279.16C138.82 280.02 142.57 280.85 146.32 281.43C150.07 282.02 153.82 282.3 157.57 282.68C161.32 283.05 165.07 283.36 168.82 283.71C172.57 284.05 176.32 284.43 180.07 284.74C183.82 285.05 187.57 285.3 191.32 285.57C195.07 285.85 197.89 286.09 202.57 286.4C207.26 286.71 213.82 287.12 219.45 287.43C225.07 287.74 231.64 288.05 236.32 288.26C241.01 288.47 245.7 288.6 247.57 288.67" fill="none" stroke="#3b7d73" stroke-width="1.4"/>
<path d="M33.9 246V289.5H247.4" fill="none" stroke="#3a3a3a" stroke-width="0.9"/>
<text x="31" y="292.4" font-size="8.6" text-anchor="end" stroke="#1a1a1a" stroke-width="0.22" >0</text>
<text x="31" y="282.06" font-size="8.6" text-anchor="end" stroke="#1a1a1a" stroke-width="0.22" >25</text>
<text x="31" y="271.72" font-size="8.6" text-anchor="end" stroke="#1a1a1a" stroke-width="0.22" >50</text>
<text x="31" y="261.38" font-size="8.6" text-anchor="end" stroke="#1a1a1a" stroke-width="0.22" >75</text>
<text x="31" y="251.04" font-size="8.6" text-anchor="end" stroke="#1a1a1a" stroke-width="0.22" >100</text>
<text x="50.7" y="298.7" font-size="8.6" text-anchor="middle" stroke="#1a1a1a" stroke-width="0.22" >250</text>
<text x="78.83" y="298.7" font-size="8.6" text-anchor="middle" stroke="#1a1a1a" stroke-width="0.22" >500</text>
<text x="106.95" y="298.7" font-size="8.6" text-anchor="middle" stroke="#1a1a1a" stroke-width="0.22" >750</text>
<text x="135.07" y="298.7" font-size="8.6" text-anchor="middle" stroke="#1a1a1a" stroke-width="0.22" >1000</text>
<text x="163.2" y="298.7" font-size="8.6" text-anchor="middle" stroke="#1a1a1a" stroke-width="0.22" >1250</text>
<text x="191.32" y="298.7" font-size="8.6" text-anchor="middle" stroke="#1a1a1a" stroke-width="0.22" >1500</text>
<text x="219.45" y="298.7" font-size="8.6" text-anchor="middle" stroke="#1a1a1a" stroke-width="0.22" >1750</text>
<text x="247.57" y="298.7" font-size="8.6" text-anchor="middle" stroke="#1a1a1a" stroke-width="0.22" >2000</text>
<path d="M33.9 289.5h2.6M33.9 279.16h2.6M33.9 268.82h2.6M33.9 258.48h2.6M33.9 248.14h2.6M50.7 289.5v-2.4M78.83 289.5v-2.4M106.95 289.5v-2.4M135.07 289.5v-2.4M163.2 289.5v-2.4M191.32 289.5v-2.4M219.45 289.5v-2.4M247.57 289.5v-2.4M36.64 289.5v-1.4M64.76 289.5v-1.4M92.89 289.5v-1.4M121.01 289.5v-1.4M149.14 289.5v-1.4M177.26 289.5v-1.4M205.39 289.5v-1.4M233.51 289.5v-1.4" stroke="#3a3a3a" stroke-width="0.8" fill="none"/>
<text transform="translate(13.8 267.75) rotate(-90)" font-size="10.5" font-weight="bold" text-anchor="middle">Count</text>
</g>
<clipPath id="cpc"><rect x="33.6" y="297.3" width="215.8" height="163.1"/></clipPath>
<g clip-path="url(#cpc)">
<path d="M33.9 392.7 L39 391.27 L44.1 389.83 L49.21 388.4 L54.31 386.97 L59.41 385.54 L64.52 384.1 L69.62 382.67 L74.72 381.24 L79.82 379.81 L84.92 378.38 L90.03 376.94 L95.13 375.51 L100.23 374.08 L105.34 372.64 L110.44 371.21 L115.54 369.78 L120.64 368.35 L125.75 366.91 L130.85 365.48 L135.95 364.05 L141.05 362.62 L146.16 361.19 L151.26 359.75 L156.36 358.32 L161.46 356.89 L166.56 355.45 L171.67 354.02 L176.77 352.59 L181.87 351.16 L186.97 349.72 L192.08 348.29 L197.18 346.86 L202.28 345.43 L207.38 344 L212.49 342.56 L217.59 341.13 L222.69 339.7 L227.8 338.26 L232.9 336.83 L238 335.4 L238 425.3 L232.9 426.65 L227.8 428 L222.69 429.35 L217.59 430.7 L212.49 432.05 L207.38 433.4 L202.28 434.75 L197.18 436.11 L192.08 437.46 L186.97 438.81 L181.87 440.16 L176.77 441.51 L171.67 442.86 L166.56 444.21 L161.46 445.56 L156.36 446.91 L151.26 448.26 L146.16 449.61 L141.05 450.96 L135.95 452.31 L130.85 453.66 L125.75 455.01 L120.64 456.37 L115.54 457.72 L110.44 459.07 L105.34 460.4 L100.23 460.4 L95.13 460.4 L90.03 460.4 L84.92 460.4 L79.82 460.4 L74.72 460.4 L69.62 460.4 L64.52 460.4 L59.41 460.4 L54.31 460.4 L49.21 460.4 L44.1 460.4 L39 460.4 L33.9 460.4Z" fill="#e8f8ec"/>
<path d="M33.9 432.12 L39 431 L44.1 429.87 L49.21 428.74 L54.31 427.6 L59.41 426.45 L64.52 425.3 L69.62 424.13 L74.72 422.96 L79.82 421.76 L84.92 420.55 L90.03 419.31 L95.13 418.04 L100.23 416.73 L105.34 415.38 L110.44 413.98 L115.54 412.53 L120.64 411.03 L125.75 409.49 L130.85 407.92 L135.95 406.31 L141.05 404.68 L146.16 403.03 L151.26 401.37 L156.36 399.69 L161.46 398 L166.56 396.31 L171.67 394.61 L176.77 392.9 L181.87 391.19 L186.97 389.47 L192.08 387.75 L197.18 386.03 L202.28 384.31 L207.38 382.58 L212.49 380.86 L217.59 379.13 L222.69 377.4 L227.8 375.67 L232.9 373.93 L238 372.2 L238 389 L232.9 390.11 L227.8 391.21 L222.69 392.32 L217.59 393.43 L212.49 394.54 L207.38 395.66 L202.28 396.77 L197.18 397.89 L192.08 399.01 L186.97 400.13 L181.87 401.25 L176.77 402.38 L171.67 403.51 L166.56 404.65 L161.46 405.8 L156.36 406.95 L151.26 408.11 L146.16 409.29 L141.05 410.48 L135.95 411.69 L130.85 412.92 L125.75 414.19 L120.64 415.49 L115.54 416.83 L110.44 418.22 L105.34 419.66 L100.23 421.15 L95.13 422.68 L90.03 424.25 L84.92 425.85 L79.82 427.48 L74.72 429.12 L69.62 430.79 L64.52 432.46 L59.41 434.15 L54.31 435.84 L49.21 437.54 L44.1 439.25 L39 440.96 L33.9 442.68Z" fill="#9ae8ac"/>
</g>
<g clip-path="url(#cpc)" fill="#8acabc" stroke="#1a564a" stroke-width="1.05">
<circle cx="40" cy="424.55" r="1.5"/>
<circle cx="40" cy="427.27" r="1.5"/>
<circle cx="40" cy="430" r="1.5"/>
<circle cx="40" cy="432.73" r="1.5"/>
<circle cx="40" cy="435.45" r="1.5"/>
<circle cx="40" cy="438.18" r="1.5"/>
<circle cx="40" cy="440.91" r="1.5"/>
<circle cx="40" cy="443.64" r="1.5"/>
<circle cx="40" cy="446.36" r="1.5"/>
<circle cx="40" cy="449.09" r="1.5"/>
<circle cx="40" cy="450" r="1.5"/>
<circle cx="38.18" cy="440" r="1.5"/>
<circle cx="38.18" cy="446.36" r="1.5"/>
<circle cx="41.82" cy="432.73" r="1.5"/>
<circle cx="41.82" cy="439.09" r="1.5"/>
<circle cx="41.82" cy="445.45" r="1.5"/>
<circle cx="47.82" cy="396.91" r="1.5"/>
<circle cx="47.82" cy="404.55" r="1.5"/>
<circle cx="47.82" cy="406.91" r="1.5"/>
<circle cx="47.82" cy="409.09" r="1.5"/>
<circle cx="47.82" cy="412.73" r="1.5"/>
<circle cx="47.82" cy="430.91" r="1.5"/>
<circle cx="47.82" cy="433.09" r="1.5"/>
<circle cx="47.82" cy="435.27" r="1.5"/>
<circle cx="47.82" cy="437.45" r="1.5"/>
<circle cx="47.82" cy="439.64" r="1.5"/>
<circle cx="47.82" cy="441.82" r="1.5"/>
<circle cx="47.82" cy="444" r="1.5"/>
<circle cx="47.82" cy="446.18" r="1.5"/>
<circle cx="47.82" cy="448.36" r="1.5"/>
<circle cx="47.82" cy="450" r="1.5"/>
<circle cx="43.64" cy="432.73" r="1.5"/>
<circle cx="43.64" cy="435.45" r="1.5"/>
<circle cx="43.64" cy="438.18" r="1.5"/>
<circle cx="43.64" cy="441.82" r="1.5"/>
<circle cx="43.64" cy="445.45" r="1.5"/>
<circle cx="46" cy="436.36" r="1.5"/>
<circle cx="46" cy="444.55" r="1.5"/>
<circle cx="54" cy="361.45" r="1.5"/>
<circle cx="54" cy="374.55" r="1.5"/>
<circle cx="54" cy="379.09" r="1.5"/>
<circle cx="54" cy="380.91" r="1.5"/>
<circle cx="54" cy="382.73" r="1.5"/>
<circle cx="54" cy="389.09" r="1.5"/>
<circle cx="54" cy="391.82" r="1.5"/>
<circle cx="54" cy="399.09" r="1.5"/>
<circle cx="54" cy="403.64" r="1.5"/>
<circle cx="56" cy="401.82" r="1.5"/>
<circle cx="56" cy="407.27" r="1.5"/>
<circle cx="56" cy="413.64" r="1.5"/>
<circle cx="56" cy="416.36" r="1.5"/>
<circle cx="56" cy="419.09" r="1.5"/>
<circle cx="56" cy="421.82" r="1.5"/>
<circle cx="56" cy="425.45" r="1.5"/>
<circle cx="56" cy="427.27" r="1.5"/>
<circle cx="56" cy="447.27" r="1.5"/>
<circle cx="56" cy="449.09" r="1.5"/>
<circle cx="59.09" cy="386" r="1.5"/>
<circle cx="64.55" cy="383.64" r="1.5"/>
<circle cx="61.82" cy="429.09" r="1.5"/>
<circle cx="61.82" cy="430.91" r="1.5"/>
<circle cx="61.82" cy="444.55" r="1.5"/>
<circle cx="61.82" cy="446.36" r="1.5"/>
<circle cx="60" cy="445.45" r="1.5"/>
<circle cx="63.64" cy="445.09" r="1.5"/>
<circle cx="67.27" cy="405.09" r="1.5"/>
<circle cx="67.27" cy="411.27" r="1.5"/>
<circle cx="67.27" cy="413.64" r="1.5"/>
<circle cx="67.27" cy="416.36" r="1.5"/>
<circle cx="67.27" cy="419.09" r="1.5"/>
<circle cx="67.27" cy="424.55" r="1.5"/>
<circle cx="67.27" cy="426.91" r="1.5"/>
<circle cx="67.27" cy="429.09" r="1.5"/>
<circle cx="67.27" cy="431.27" r="1.5"/>
<circle cx="67.27" cy="433.45" r="1.5"/>
<circle cx="67.27" cy="435.64" r="1.5"/>
<circle cx="67.27" cy="437.82" r="1.5"/>
<circle cx="67.27" cy="440" r="1.5"/>
<circle cx="67.27" cy="442.18" r="1.5"/>
<circle cx="67.27" cy="444.36" r="1.5"/>
<circle cx="67.27" cy="446.55" r="1.5"/>
<circle cx="67.27" cy="449.09" r="1.5"/>
<circle cx="65.45" cy="443.64" r="1.5"/>
<circle cx="65.45" cy="446.36" r="1.5"/>
<circle cx="72.73" cy="445.82" r="1.5"/>
<circle cx="78.18" cy="367.27" r="1.5"/>
<circle cx="78.18" cy="383.64" r="1.5"/>
<circle cx="78.18" cy="385.45" r="1.5"/>
<circle cx="78.18" cy="432.73" r="1.5"/>
<circle cx="78.18" cy="435.45" r="1.5"/>
<circle cx="78.18" cy="439.09" r="1.5"/>
<circle cx="78.18" cy="444.55" r="1.5"/>
<circle cx="78.18" cy="446.36" r="1.5"/>
<circle cx="82.73" cy="420" r="1.5"/>
<circle cx="82.73" cy="422.18" r="1.5"/>
<circle cx="82.73" cy="424.55" r="1.5"/>
<circle cx="82.73" cy="426.91" r="1.5"/>
<circle cx="82.73" cy="432.73" r="1.5"/>
<circle cx="82.73" cy="440.91" r="1.5"/>
<circle cx="82.73" cy="447.27" r="1.5"/>
<circle cx="84.55" cy="420" r="1.5"/>
<circle cx="84.55" cy="431.82" r="1.5"/>
<circle cx="84.55" cy="440" r="1.5"/>
<circle cx="80.91" cy="447.27" r="1.5"/>
<circle cx="79.45" cy="427.27" r="1.5"/>
<circle cx="79.45" cy="430.91" r="1.5"/>
<circle cx="89.64" cy="347.27" r="1.5"/>
<circle cx="89.64" cy="384.55" r="1.5"/>
<circle cx="89.64" cy="386.36" r="1.5"/>
<circle cx="89.64" cy="388.18" r="1.5"/>
<circle cx="89.64" cy="390" r="1.5"/>
<circle cx="89.64" cy="391.82" r="1.5"/>
<circle cx="89.64" cy="394.55" r="1.5"/>
<circle cx="89.64" cy="396.36" r="1.5"/>
<circle cx="89.64" cy="405.45" r="1.5"/>
<circle cx="89.64" cy="407.64" r="1.5"/>
<circle cx="89.64" cy="409.82" r="1.5"/>
<circle cx="89.64" cy="412" r="1.5"/>
<circle cx="89.64" cy="414.18" r="1.5"/>
<circle cx="89.64" cy="416.36" r="1.5"/>
<circle cx="89.64" cy="418.55" r="1.5"/>
<circle cx="89.64" cy="420.73" r="1.5"/>
<circle cx="89.64" cy="422.91" r="1.5"/>
<circle cx="89.64" cy="425.45" r="1.5"/>
<circle cx="89.64" cy="431.82" r="1.5"/>
<circle cx="89.64" cy="434.55" r="1.5"/>
<circle cx="89.64" cy="437.27" r="1.5"/>
<circle cx="89.64" cy="439.09" r="1.5"/>
<circle cx="89.64" cy="440.91" r="1.5"/>
<circle cx="89.64" cy="443.64" r="1.5"/>
<circle cx="90.91" cy="412.73" r="1.5"/>
<circle cx="90.91" cy="419.09" r="1.5"/>
<circle cx="90.91" cy="423.64" r="1.5"/>
<circle cx="90.91" cy="438.18" r="1.5"/>
<circle cx="97.27" cy="428.18" r="1.5"/>
<circle cx="97.27" cy="430" r="1.5"/>
<circle cx="100.91" cy="387.27" r="1.5"/>
<circle cx="100.91" cy="400.91" r="1.5"/>
<circle cx="100.91" cy="402.73" r="1.5"/>
<circle cx="100.91" cy="405.45" r="1.5"/>
<circle cx="100.91" cy="408.18" r="1.5"/>
<circle cx="100.91" cy="413.64" r="1.5"/>
<circle cx="100.91" cy="416.36" r="1.5"/>
<circle cx="100.91" cy="420" r="1.5"/>
<circle cx="100.91" cy="422.73" r="1.5"/>
<circle cx="100.91" cy="426.36" r="1.5"/>
<circle cx="100.91" cy="430.91" r="1.5"/>
<circle cx="100.91" cy="437.27" r="1.5"/>
<circle cx="106.36" cy="385.09" r="1.5"/>
<circle cx="106.36" cy="395.09" r="1.5"/>
<circle cx="106.36" cy="407.27" r="1.5"/>
<circle cx="106.36" cy="424.55" r="1.5"/>
<circle cx="112.18" cy="397.27" r="1.5"/>
<circle cx="112.18" cy="399.09" r="1.5"/>
<circle cx="112.18" cy="408.18" r="1.5"/>
<circle cx="112.18" cy="410.91" r="1.5"/>
<circle cx="112.18" cy="421.82" r="1.5"/>
<circle cx="112.18" cy="429.09" r="1.5"/>
<circle cx="123.64" cy="430" r="1.5"/>
<circle cx="123.64" cy="434.91" r="1.5"/>
<circle cx="123.31" cy="317.26" r="1.5"/>
<circle cx="123.31" cy="323.64" r="1.5"/>
<circle cx="123.31" cy="338.3" r="1.5"/>
<circle cx="123.31" cy="430.02" r="1.5"/>
<circle cx="123.31" cy="435.46" r="1.5"/>
<circle cx="128.98" cy="337.35" r="1.5"/>
<circle cx="128.98" cy="364.3" r="1.5"/>
<circle cx="128.98" cy="365.72" r="1.5"/>
<circle cx="128.98" cy="387.47" r="1.5"/>
<circle cx="128.98" cy="392.67" r="1.5"/>
<circle cx="128.98" cy="415.84" r="1.5"/>
<circle cx="128.98" cy="422.93" r="1.5"/>
<circle cx="128.98" cy="437.12" r="1.5"/>
<circle cx="134.66" cy="383.92" r="1.5"/>
<circle cx="134.66" cy="389.83" r="1.5"/>
<circle cx="134.66" cy="394.56" r="1.5"/>
<circle cx="134.66" cy="398.11" r="1.5"/>
<circle cx="134.66" cy="401.65" r="1.5"/>
<circle cx="134.66" cy="405.2" r="1.5"/>
<circle cx="134.66" cy="409.22" r="1.5"/>
<circle cx="134.66" cy="413" r="1.5"/>
<circle cx="134.66" cy="415.84" r="1.5"/>
<circle cx="134.66" cy="427.66" r="1.5"/>
<circle cx="134.66" cy="432.86" r="1.5"/>
<circle cx="140.09" cy="402.13" r="1.5"/>
<circle cx="140.09" cy="406.38" r="1.5"/>
<circle cx="140.09" cy="414.66" r="1.5"/>
<circle cx="140.09" cy="423.4" r="1.5"/>
<circle cx="145.53" cy="404.02" r="1.5"/>
<circle cx="145.53" cy="407.57" r="1.5"/>
<circle cx="145.53" cy="411.11" r="1.5"/>
<circle cx="145.53" cy="414.66" r="1.5"/>
<circle cx="145.53" cy="417.02" r="1.5"/>
<circle cx="145.53" cy="420.57" r="1.5"/>
<circle cx="145.53" cy="422.93" r="1.5"/>
<circle cx="145.53" cy="426.48" r="1.5"/>
<circle cx="145.53" cy="429.55" r="1.5"/>
<circle cx="145.53" cy="438.3" r="1.5"/>
<circle cx="148.37" cy="402.13" r="1.5"/>
<circle cx="148.37" cy="405.67" r="1.5"/>
<circle cx="148.37" cy="409.93" r="1.5"/>
<circle cx="148.37" cy="413.48" r="1.5"/>
<circle cx="148.37" cy="416.31" r="1.5"/>
<circle cx="148.37" cy="419.39" r="1.5"/>
<circle cx="148.37" cy="421.75" r="1.5"/>
<circle cx="151.21" cy="392.91" r="1.5"/>
<circle cx="151.21" cy="395.04" r="1.5"/>
<circle cx="151.21" cy="400.47" r="1.5"/>
<circle cx="151.21" cy="403.31" r="1.5"/>
<circle cx="151.21" cy="406.86" r="1.5"/>
<circle cx="151.21" cy="413.48" r="1.5"/>
<circle cx="151.21" cy="417.02" r="1.5"/>
<circle cx="151.21" cy="420.57" r="1.5"/>
<circle cx="151.21" cy="424.11" r="1.5"/>
<circle cx="157.12" cy="407.57" r="1.5"/>
<circle cx="157.12" cy="411.11" r="1.5"/>
<circle cx="157.12" cy="415.84" r="1.5"/>
<circle cx="157.12" cy="418.2" r="1.5"/>
<circle cx="157.12" cy="420.57" r="1.5"/>
<circle cx="157.12" cy="422.93" r="1.5"/>
<circle cx="157.12" cy="425.3" r="1.5"/>
<circle cx="157.12" cy="427.66" r="1.5"/>
<circle cx="157.12" cy="430.02" r="1.5"/>
<circle cx="157.12" cy="432.39" r="1.5"/>
<circle cx="157.12" cy="434.75" r="1.5"/>
<circle cx="157.12" cy="436.64" r="1.5"/>
<circle cx="157.12" cy="439.01" r="1.5"/>
<circle cx="176.74" cy="406.86" r="1.5"/>
<circle cx="176.74" cy="408.27" r="1.5"/>
<circle cx="179.1" cy="417.73" r="1.5"/>
<circle cx="179.1" cy="425.77" r="1.5"/>
<circle cx="202.03" cy="329.55" r="1.5"/>
<circle cx="202.03" cy="332.39" r="1.5"/>
<circle cx="202.03" cy="361.94" r="1.5"/>
<circle cx="202.03" cy="363.12" r="1.5"/>
<circle cx="224.49" cy="326.48" r="1.5"/>
<circle cx="224.49" cy="330.73" r="1.5"/>
<circle cx="235.84" cy="330.02" r="1.5"/>
<circle cx="89.64" cy="331.63" r="1.5"/>
<circle cx="61.47" cy="428.26" r="1.5"/>
<circle cx="61.47" cy="430.52" r="1.5"/>
<circle cx="61.47" cy="432.78" r="1.5"/>
<circle cx="61.47" cy="435.03" r="1.5"/>
<circle cx="61.47" cy="437.29" r="1.5"/>
<circle cx="61.47" cy="439.54" r="1.5"/>
<circle cx="61.47" cy="441.8" r="1.5"/>
<circle cx="61.47" cy="444.06" r="1.5"/>
<circle cx="61.47" cy="445.56" r="1.5"/>
</g>
<g clip-path="url(#cpc)">
<path d="M33.9 432.12 L39 431 L44.1 429.87 L49.21 428.74 L54.31 427.6 L59.41 426.45 L64.52 425.3 L69.62 424.13 L74.72 422.96 L79.82 421.76 L84.92 420.55 L90.03 419.31 L95.13 418.04 L100.23 416.73 L105.34 415.38 L110.44 413.98 L115.54 412.53 L120.64 411.03 L125.75 409.49 L130.85 407.92 L135.95 406.31 L141.05 404.68 L146.16 403.03 L151.26 401.37 L156.36 399.69 L161.46 398 L166.56 396.31 L171.67 394.61 L176.77 392.9 L181.87 391.19 L186.97 389.47 L192.08 387.75 L197.18 386.03 L202.28 384.31 L207.38 382.58 L212.49 380.86 L217.59 379.13 L222.69 377.4 L227.8 375.67 L232.9 373.93 L238 372.2" fill="none" stroke="#2a7444" stroke-width="1.1" stroke-dasharray="2.2 1.7"/>
<path d="M33.9 442.68 L39 440.96 L44.1 439.25 L49.21 437.54 L54.31 435.84 L59.41 434.15 L64.52 432.46 L69.62 430.79 L74.72 429.12 L79.82 427.48 L84.92 425.85 L90.03 424.25 L95.13 422.68 L100.23 421.15 L105.34 419.66 L110.44 418.22 L115.54 416.83 L120.64 415.49 L125.75 414.19 L130.85 412.92 L135.95 411.69 L141.05 410.48 L146.16 409.29 L151.26 408.11 L156.36 406.95 L161.46 405.8 L166.56 404.65 L171.67 403.51 L176.77 402.38 L181.87 401.25 L186.97 400.13 L192.08 399.01 L197.18 397.89 L202.28 396.77 L207.38 395.66 L212.49 394.54 L217.59 393.43 L222.69 392.32 L227.8 391.21 L232.9 390.11 L238 389" fill="none" stroke="#2a7444" stroke-width="1.1" stroke-dasharray="2.2 1.7"/>
<path d="M33.9 437.4L238 380.6" stroke="#36e054" stroke-width="1.4"/>
<path d="M33.9 392.7L238 335.4" fill="none" stroke="#27b64a" stroke-width="1.4" stroke-dasharray="8.5 5.6" stroke-dashoffset="1.4"/>
<path d="M33.9 479.33L238 425.3" fill="none" stroke="#27b64a" stroke-width="1.4" stroke-dasharray="8.5 5.6" stroke-dashoffset="0"/>
</g>
<path d="M33.6 300.3V460.4H247.4" fill="none" stroke="#3a3a3a" stroke-width="0.9"/>
<text x="30.6" y="454.1" font-size="8.6" text-anchor="end" stroke="#1a1a1a" stroke-width="0.22" >0</text>
<text x="30.6" y="435.3" font-size="8.6" text-anchor="end" stroke="#1a1a1a" stroke-width="0.22" >50</text>
<text x="30.6" y="416.5" font-size="8.6" text-anchor="end" stroke="#1a1a1a" stroke-width="0.22" >100</text>
<text x="30.6" y="397.7" font-size="8.6" text-anchor="end" stroke="#1a1a1a" stroke-width="0.22" >150</text>
<text x="30.6" y="378.9" font-size="8.6" text-anchor="end" stroke="#1a1a1a" stroke-width="0.22" >200</text>
<text x="30.6" y="360.1" font-size="8.6" text-anchor="end" stroke="#1a1a1a" stroke-width="0.22" >250</text>
<text x="30.6" y="341.3" font-size="8.6" text-anchor="end" stroke="#1a1a1a" stroke-width="0.22" >300</text>
<text x="30.6" y="322.5" font-size="8.6" text-anchor="end" stroke="#1a1a1a" stroke-width="0.22" >350</text>
<text x="30.6" y="303.7" font-size="8.6" text-anchor="end" stroke="#1a1a1a" stroke-width="0.22" >400</text>
<text x="50.2" y="471.3" font-size="8.6" text-anchor="middle" stroke="#1a1a1a" stroke-width="0.22" >250</text>
<text x="78.37" y="471.3" font-size="8.6" text-anchor="middle" stroke="#1a1a1a" stroke-width="0.22" >500</text>
<text x="106.54" y="471.3" font-size="8.6" text-anchor="middle" stroke="#1a1a1a" stroke-width="0.22" >750</text>
<text x="134.71" y="471.3" font-size="8.6" text-anchor="middle" stroke="#1a1a1a" stroke-width="0.22" >1000</text>
<text x="162.88" y="471.3" font-size="8.6" text-anchor="middle" stroke="#1a1a1a" stroke-width="0.22" >1250</text>
<text x="191.05" y="471.3" font-size="8.6" text-anchor="middle" stroke="#1a1a1a" stroke-width="0.22" >1500</text>
<text x="219.22" y="471.3" font-size="8.6" text-anchor="middle" stroke="#1a1a1a" stroke-width="0.22" >1750</text>
<text x="247.39" y="471.3" font-size="8.6" text-anchor="middle" stroke="#1a1a1a" stroke-width="0.22" >2000</text>
<path d="M33.6 451.2h2.8M33.6 432.4h2.8M33.6 413.6h2.8M33.6 394.8h2.8M33.6 376h2.8M33.6 357.2h2.8M33.6 338.4h2.8M33.6 319.6h2.8M33.6 300.8h2.8M33.6 441.8h1.6M33.6 423h1.6M33.6 404.2h1.6M33.6 385.4h1.6M33.6 366.6h1.6M33.6 347.8h1.6M33.6 329h1.6M33.6 310.2h1.6M50.2 460.4v-2.6M78.37 460.4v-2.6M106.54 460.4v-2.6M134.71 460.4v-2.6M162.88 460.4v-2.6M191.05 460.4v-2.6M219.22 460.4v-2.6M247.39 460.4v-2.6M36.12 460.4v-1.5M64.28 460.4v-1.5M92.46 460.4v-1.5M120.62 460.4v-1.5M148.8 460.4v-1.5M176.97 460.4v-1.5M205.13 460.4v-1.5M233.31 460.4v-1.5" stroke="#3a3a3a" stroke-width="0.8" fill="none"/>
<text transform="translate(12.5 385) rotate(-90)" font-size="10" font-weight="bold" font-style="italic" text-anchor="middle">M<tspan font-size="6.5" dy="1.5">u</tspan></text>
<text x="128.5" y="488" font-size="11.7" text-anchor="middle"><tspan font-weight="bold">(c)</tspan> <tspan font-style="italic">L<tspan font-size="7" dy="1.5">a</tspan></tspan><tspan dy="-1.5"> (mm)</tspan></text>
<g>
<rect x="327.2" y="279.94" width="24.3" height="2.46" fill="url(#bg)" stroke="#3c635d" stroke-width="0.8"/>
<rect x="351.5" y="281.58" width="24.3" height="0.82" fill="url(#bg)" stroke="#3c635d" stroke-width="0.8"/>
<rect x="375.8" y="276.99" width="24.3" height="5.41" fill="url(#bg)" stroke="#3c635d" stroke-width="0.8"/>
<rect x="400.1" y="276.99" width="24.3" height="5.41" fill="url(#bg)" stroke="#3c635d" stroke-width="0.8"/>
<rect x="424.4" y="252.55" width="24.3" height="29.85" fill="url(#bg)" stroke="#3c635d" stroke-width="0.8"/>
<rect x="448.7" y="278.3" width="24.3" height="4.1" fill="url(#bg)" stroke="#3c635d" stroke-width="0.8"/>
<rect x="473" y="279.12" width="24.3" height="3.28" fill="url(#bg)" stroke="#3c635d" stroke-width="0.8"/>
<rect x="497.3" y="282.07" width="24.3" height="0.33" fill="url(#bg)" stroke="#3c635d" stroke-width="0.8"/>
<rect x="521.6" y="282.24" width="24.3" height="0.16" fill="url(#bg)" stroke="#3c635d" stroke-width="0.8"/>
<path d="M327.2 281.91C329.63 281.95 337.32 282.13 341.78 282.15C346.23 282.18 350.69 282.19 353.93 282.07C357.17 281.95 358.79 281.91 361.22 281.42C363.65 280.92 366.08 280.1 368.51 279.12C370.94 278.14 373.37 276.77 375.8 275.51C378.23 274.25 380.66 272.83 383.09 271.58C385.52 270.32 387.95 268.95 390.38 267.97C392.81 266.98 395.24 266.22 397.67 265.67C400.1 265.13 402.53 264.74 404.96 264.69C407.39 264.63 409.82 264.96 412.25 265.34C414.68 265.73 417.11 266.33 419.54 266.98C421.97 267.64 424.4 268.46 426.83 269.28C429.26 270.1 431.29 270.95 434.12 271.9C436.95 272.86 440.6 274.09 443.84 275.02C447.08 275.95 450.32 276.77 453.56 277.48C456.8 278.19 460.04 278.79 463.28 279.28C466.52 279.78 469.36 280.1 473 280.43C476.64 280.76 481.1 281.03 485.15 281.25C489.2 281.47 492.84 281.61 497.3 281.74C501.75 281.88 506.21 281.98 511.88 282.07C517.55 282.16 525.65 282.22 531.32 282.27C536.99 282.32 543.47 282.34 545.9 282.35" fill="none" stroke="#3b7d73" stroke-width="1.4"/>
<path d="M327.2 247V282.4H545.7" fill="none" stroke="#3a3a3a" stroke-width="0.9"/>
<text x="324.3" y="285.3" font-size="8.6" text-anchor="end" stroke="#1a1a1a" stroke-width="0.22" >0</text>
<text x="324.3" y="277.1" font-size="8.6" text-anchor="end" stroke="#1a1a1a" stroke-width="0.22" >50</text>
<text x="324.3" y="268.9" font-size="8.6" text-anchor="end" stroke="#1a1a1a" stroke-width="0.22" >100</text>
<text x="324.3" y="260.7" font-size="8.6" text-anchor="end" stroke="#1a1a1a" stroke-width="0.22" >150</text>
<text x="324.3" y="252.5" font-size="8.6" text-anchor="end" stroke="#1a1a1a" stroke-width="0.22" >200</text>
<text x="327.2" y="292" font-size="8.6" text-anchor="middle" stroke="#1a1a1a" stroke-width="0.22" >0%</text>
<text x="375.8" y="292" font-size="8.6" text-anchor="middle" stroke="#1a1a1a" stroke-width="0.22" >1%</text>
<text x="424.4" y="292" font-size="8.6" text-anchor="middle" stroke="#1a1a1a" stroke-width="0.22" >2%</text>
<text x="473" y="292" font-size="8.6" text-anchor="middle" stroke="#1a1a1a" stroke-width="0.22" >3%</text>
<text x="521.6" y="292" font-size="8.6" text-anchor="middle" stroke="#1a1a1a" stroke-width="0.22" >4%</text>
<path d="M327.2 282.4h2.6M327.2 274.2h2.6M327.2 266h2.6M327.2 257.8h2.6M327.2 249.6h2.6M327.2 278.3h1.5M327.2 270.1h1.5M327.2 261.9h1.5M327.2 253.7h1.5M327.2 282.4v-2.4M375.8 282.4v-2.4M424.4 282.4v-2.4M473 282.4v-2.4M521.6 282.4v-2.4M351.5 282.4v-1.4M400.1 282.4v-1.4M448.7 282.4v-1.4M497.3 282.4v-1.4" stroke="#3a3a3a" stroke-width="0.8" fill="none"/>
<text transform="translate(308.5 264.7) rotate(-90)" font-size="10.5" font-weight="bold" text-anchor="middle">Count</text>
</g>
<clipPath id="cpd"><rect x="326.7" y="292.5" width="219" height="166.7"/></clipPath>
<g clip-path="url(#cpd)">
<path d="M327 366.6 L332.22 366.62 L337.44 366.63 L342.67 366.65 L347.89 366.66 L353.11 366.68 L358.33 366.69 L363.56 366.71 L368.78 366.72 L374 366.74 L379.23 366.75 L384.45 366.76 L389.67 366.78 L394.89 366.8 L400.12 366.81 L405.34 366.82 L410.56 366.84 L415.78 366.86 L421 366.87 L426.23 366.88 L431.45 366.9 L436.67 366.92 L441.89 366.93 L447.12 366.94 L452.34 366.96 L457.56 366.98 L462.78 366.99 L468.01 367 L473.23 367.02 L478.45 367.04 L483.67 367.05 L488.9 367.06 L494.12 367.08 L499.34 367.09 L504.56 367.11 L509.79 367.12 L515.01 367.14 L520.23 367.15 L525.45 367.17 L530.68 367.19 L535.9 367.2 L535.9 459.2 L530.68 459.2 L525.45 459.2 L520.23 459.2 L515.01 459.2 L509.79 459.2 L504.56 459.2 L499.34 459.2 L494.12 459.2 L488.9 459.2 L483.67 459.2 L478.45 459.2 L473.23 459.2 L468.01 459.2 L462.78 459.2 L457.56 459.2 L452.34 459.2 L447.12 459.2 L441.89 459.2 L436.67 459.2 L431.45 459.2 L426.23 459.2 L421 459.2 L415.78 459.2 L410.56 459.2 L405.34 459.2 L400.12 459.2 L394.89 459.2 L389.67 459.2 L384.45 459.2 L379.23 459.2 L374 459.2 L368.78 459.2 L363.56 459.2 L358.33 459.2 L353.11 459.2 L347.89 459.2 L342.67 459.2 L337.44 459.2 L332.22 459.2 L327 459.2Z" fill="#e8f8ec"/>
<path d="M327 409.38 L332.22 409.76 L337.44 410.14 L342.67 410.51 L347.89 410.89 L353.11 411.26 L358.33 411.62 L363.56 411.98 L368.78 412.33 L374 412.68 L379.23 413.01 L384.45 413.33 L389.67 413.64 L394.89 413.92 L400.12 414.18 L405.34 414.41 L410.56 414.6 L415.78 414.75 L421 414.84 L426.23 414.88 L431.45 414.86 L436.67 414.78 L441.89 414.65 L447.12 414.48 L452.34 414.27 L457.56 414.04 L462.78 413.78 L468.01 413.51 L473.23 413.22 L478.45 412.92 L483.67 412.62 L488.9 412.3 L494.12 411.98 L499.34 411.65 L504.56 411.32 L509.79 410.99 L515.01 410.65 L520.23 410.31 L525.45 409.97 L530.68 409.62 L535.9 409.28 L535.9 426.32 L530.68 425.94 L525.45 425.55 L520.23 425.17 L515.01 424.79 L509.79 424.41 L504.56 424.04 L499.34 423.67 L494.12 423.3 L488.9 422.94 L483.67 422.58 L478.45 422.24 L473.23 421.9 L468.01 421.57 L462.78 421.26 L457.56 420.96 L452.34 420.69 L447.12 420.44 L441.89 420.23 L436.67 420.06 L431.45 419.94 L426.23 419.88 L421 419.88 L415.78 419.93 L410.56 420.04 L405.34 420.19 L400.12 420.38 L394.89 420.6 L389.67 420.84 L384.45 421.11 L379.23 421.39 L374 421.68 L368.78 421.99 L363.56 422.3 L358.33 422.62 L353.11 422.94 L347.89 423.27 L342.67 423.61 L337.44 423.94 L332.22 424.28 L327 424.62Z" fill="#9ae8ac"/>
</g>
<g clip-path="url(#cpd)" fill="#8acabc" stroke="#1a564a" stroke-width="1.05">
<circle cx="327.02" cy="386" r="1.5"/>
<circle cx="327.02" cy="389.28" r="1.5"/>
<circle cx="327.02" cy="391.46" r="1.5"/>
<circle cx="327.02" cy="401.28" r="1.5"/>
<circle cx="327.02" cy="404.55" r="1.5"/>
<circle cx="327.02" cy="407.82" r="1.5"/>
<circle cx="327.02" cy="413.28" r="1.5"/>
<circle cx="327.02" cy="416.55" r="1.5"/>
<circle cx="327.02" cy="425.28" r="1.5"/>
<circle cx="327.02" cy="429.64" r="1.5"/>
<circle cx="327.02" cy="432.92" r="1.5"/>
<circle cx="327.02" cy="437.28" r="1.5"/>
<circle cx="327.02" cy="441.64" r="1.5"/>
<circle cx="327.02" cy="446.01" r="1.5"/>
<circle cx="352.11" cy="363.53" r="1.5"/>
<circle cx="352.11" cy="382.73" r="1.5"/>
<circle cx="352.11" cy="430.3" r="1.5"/>
<circle cx="352.11" cy="437.28" r="1.5"/>
<circle cx="352.11" cy="439.46" r="1.5"/>
<circle cx="352.11" cy="444.92" r="1.5"/>
<circle cx="354.73" cy="446.01" r="1.5"/>
<circle cx="357.35" cy="410" r="1.5"/>
<circle cx="365.2" cy="438.81" r="1.5"/>
<circle cx="378.3" cy="376.18" r="1.5"/>
<circle cx="378.3" cy="377.93" r="1.5"/>
<circle cx="378.3" cy="379.67" r="1.5"/>
<circle cx="378.3" cy="381.42" r="1.5"/>
<circle cx="378.3" cy="383.17" r="1.5"/>
<circle cx="378.3" cy="384.91" r="1.5"/>
<circle cx="378.3" cy="386.66" r="1.5"/>
<circle cx="378.3" cy="388.4" r="1.5"/>
<circle cx="378.3" cy="390.15" r="1.5"/>
<circle cx="378.3" cy="391.89" r="1.5"/>
<circle cx="378.3" cy="393.64" r="1.5"/>
<circle cx="378.3" cy="395.39" r="1.5"/>
<circle cx="378.3" cy="396.91" r="1.5"/>
<circle cx="378.3" cy="402.8" r="1.5"/>
<circle cx="378.3" cy="406.3" r="1.5"/>
<circle cx="378.3" cy="413.28" r="1.5"/>
<circle cx="378.3" cy="414.8" r="1.5"/>
<circle cx="378.3" cy="419.82" r="1.5"/>
<circle cx="378.3" cy="423.1" r="1.5"/>
<circle cx="378.3" cy="426.81" r="1.5"/>
<circle cx="378.3" cy="435.1" r="1.5"/>
<circle cx="378.3" cy="437.28" r="1.5"/>
<circle cx="378.3" cy="439.46" r="1.5"/>
<circle cx="378.3" cy="442.73" r="1.5"/>
<circle cx="378.3" cy="444.92" r="1.5"/>
<circle cx="393.57" cy="406.73" r="1.5"/>
<circle cx="399.9" cy="401.93" r="1.5"/>
<circle cx="404.26" cy="380.55" r="1.5"/>
<circle cx="404.26" cy="390.37" r="1.5"/>
<circle cx="404.26" cy="392.55" r="1.5"/>
<circle cx="404.26" cy="394.73" r="1.5"/>
<circle cx="404.26" cy="397.57" r="1.5"/>
<circle cx="404.26" cy="402.37" r="1.5"/>
<circle cx="404.26" cy="405.64" r="1.5"/>
<circle cx="404.26" cy="410" r="1.5"/>
<circle cx="404.26" cy="413.28" r="1.5"/>
<circle cx="404.26" cy="415.46" r="1.5"/>
<circle cx="404.26" cy="417.64" r="1.5"/>
<circle cx="404.26" cy="419.82" r="1.5"/>
<circle cx="404.26" cy="422.01" r="1.5"/>
<circle cx="404.26" cy="424.19" r="1.5"/>
<circle cx="404.26" cy="426.37" r="1.5"/>
<circle cx="404.26" cy="428.55" r="1.5"/>
<circle cx="404.26" cy="430.73" r="1.5"/>
<circle cx="404.26" cy="432.92" r="1.5"/>
<circle cx="404.26" cy="435.1" r="1.5"/>
<circle cx="404.26" cy="437.28" r="1.5"/>
<circle cx="404.26" cy="443.83" r="1.5"/>
<circle cx="419.75" cy="404.99" r="1.5"/>
<circle cx="430.12" cy="312.56" r="1.5"/>
<circle cx="430.12" cy="319.07" r="1.5"/>
<circle cx="430.12" cy="321.4" r="1.5"/>
<circle cx="430.12" cy="324.88" r="1.5"/>
<circle cx="430.12" cy="326.05" r="1.5"/>
<circle cx="430.12" cy="333.72" r="1.5"/>
<circle cx="430.12" cy="343.02" r="1.5"/>
<circle cx="430.12" cy="362.09" r="1.5"/>
<circle cx="430.12" cy="371.4" r="1.5"/>
<circle cx="443.14" cy="403.95" r="1.5"/>
<circle cx="443.14" cy="405.12" r="1.5"/>
<circle cx="443.14" cy="417.91" r="1.5"/>
<circle cx="443.14" cy="436.98" r="1.5"/>
<circle cx="455.93" cy="402.09" r="1.5"/>
<circle cx="455.93" cy="403.49" r="1.5"/>
<circle cx="455.93" cy="413.26" r="1.5"/>
<circle cx="455.93" cy="415.58" r="1.5"/>
<circle cx="455.93" cy="417.91" r="1.5"/>
<circle cx="455.93" cy="421.4" r="1.5"/>
<circle cx="455.93" cy="423.72" r="1.5"/>
<circle cx="459.88" cy="430.23" r="1.5"/>
<circle cx="459.88" cy="432.33" r="1.5"/>
<circle cx="459.88" cy="434.19" r="1.5"/>
<circle cx="459.88" cy="436.98" r="1.5"/>
<circle cx="459.88" cy="438.84" r="1.5"/>
<circle cx="459.88" cy="440.7" r="1.5"/>
<circle cx="459.88" cy="442.33" r="1.5"/>
<circle cx="459.88" cy="443.49" r="1.5"/>
<circle cx="481.98" cy="324.88" r="1.5"/>
<circle cx="481.98" cy="327.21" r="1.5"/>
<circle cx="481.98" cy="333.02" r="1.5"/>
<circle cx="481.98" cy="357.44" r="1.5"/>
<circle cx="481.98" cy="359.07" r="1.5"/>
<circle cx="481.98" cy="360.47" r="1.5"/>
<circle cx="481.98" cy="384.19" r="1.5"/>
<circle cx="481.98" cy="385.81" r="1.5"/>
<circle cx="481.98" cy="387.67" r="1.5"/>
<circle cx="481.98" cy="391.86" r="1.5"/>
<circle cx="481.98" cy="397.44" r="1.5"/>
<circle cx="481.98" cy="413.95" r="1.5"/>
<circle cx="481.98" cy="424.42" r="1.5"/>
<circle cx="481.98" cy="427.21" r="1.5"/>
<circle cx="481.98" cy="429.53" r="1.5"/>
<circle cx="481.98" cy="431.86" r="1.5"/>
<circle cx="481.98" cy="434.19" r="1.5"/>
<circle cx="481.98" cy="436.51" r="1.5"/>
<circle cx="481.98" cy="438.84" r="1.5"/>
<circle cx="481.98" cy="442.33" r="1.5"/>
<circle cx="533.84" cy="443.02" r="1.5"/>
<circle cx="430.43" cy="447.89" r="1.5"/>
<circle cx="430.47" cy="445.67" r="1.5"/>
<circle cx="430.52" cy="443.11" r="1.5"/>
<circle cx="430.48" cy="440.71" r="1.5"/>
<circle cx="430.5" cy="438.46" r="1.5"/>
<circle cx="430.5" cy="436.27" r="1.5"/>
<circle cx="430.49" cy="433.81" r="1.5"/>
<circle cx="430.4" cy="431.18" r="1.5"/>
<circle cx="430.43" cy="428.91" r="1.5"/>
<circle cx="430.55" cy="426.49" r="1.5"/>
<circle cx="430.47" cy="424.11" r="1.5"/>
<circle cx="430.51" cy="421.61" r="1.5"/>
<circle cx="430.42" cy="419.31" r="1.5"/>
<circle cx="430.45" cy="417.02" r="1.5"/>
<circle cx="430.55" cy="414.54" r="1.5"/>
<circle cx="430.51" cy="412.05" r="1.5"/>
<circle cx="430.58" cy="409.78" r="1.5"/>
<circle cx="430.52" cy="407.36" r="1.5"/>
<circle cx="430.5" cy="404.9" r="1.5"/>
<circle cx="430.49" cy="402.57" r="1.5"/>
<circle cx="430.5" cy="400.02" r="1.5"/>
<circle cx="430.54" cy="397.65" r="1.5"/>
<circle cx="430.59" cy="395.49" r="1.5"/>
<circle cx="430.51" cy="392.84" r="1.5"/>
<circle cx="430.57" cy="390.75" r="1.5"/>
<circle cx="430.42" cy="388.24" r="1.5"/>
<circle cx="430.41" cy="385.93" r="1.5"/>
<circle cx="430.5" cy="381.46" r="1.5"/>
<circle cx="430.5" cy="379.53" r="1.5"/>
</g>
<g clip-path="url(#cpd)">
<path d="M327 409.38 L332.22 409.76 L337.44 410.14 L342.67 410.51 L347.89 410.89 L353.11 411.26 L358.33 411.62 L363.56 411.98 L368.78 412.33 L374 412.68 L379.23 413.01 L384.45 413.33 L389.67 413.64 L394.89 413.92 L400.12 414.18 L405.34 414.41 L410.56 414.6 L415.78 414.75 L421 414.84 L426.23 414.88 L431.45 414.86 L436.67 414.78 L441.89 414.65 L447.12 414.48 L452.34 414.27 L457.56 414.04 L462.78 413.78 L468.01 413.51 L473.23 413.22 L478.45 412.92 L483.67 412.62 L488.9 412.3 L494.12 411.98 L499.34 411.65 L504.56 411.32 L509.79 410.99 L515.01 410.65 L520.23 410.31 L525.45 409.97 L530.68 409.62 L535.9 409.28" fill="none" stroke="#2a7444" stroke-width="1.1" stroke-dasharray="2.2 1.7"/>
<path d="M327 424.62 L332.22 424.28 L337.44 423.94 L342.67 423.61 L347.89 423.27 L353.11 422.94 L358.33 422.62 L363.56 422.3 L368.78 421.99 L374 421.68 L379.23 421.39 L384.45 421.11 L389.67 420.84 L394.89 420.6 L400.12 420.38 L405.34 420.19 L410.56 420.04 L415.78 419.93 L421 419.88 L426.23 419.88 L431.45 419.94 L436.67 420.06 L441.89 420.23 L447.12 420.44 L452.34 420.69 L457.56 420.96 L462.78 421.26 L468.01 421.57 L473.23 421.9 L478.45 422.24 L483.67 422.58 L488.9 422.94 L494.12 423.3 L499.34 423.67 L504.56 424.04 L509.79 424.41 L515.01 424.79 L520.23 425.17 L525.45 425.55 L530.68 425.94 L535.9 426.32" fill="none" stroke="#2a7444" stroke-width="1.1" stroke-dasharray="2.2 1.7"/>
<path d="M327 417L535.9 417.8" stroke="#36e054" stroke-width="1.4"/>
<path d="M327 366.6L535.9 367.2" fill="none" stroke="#27b64a" stroke-width="1.4" stroke-dasharray="6.8 5.5" stroke-dashoffset="0"/>
<path d="M327 470L535.9 470" fill="none" stroke="#27b64a" stroke-width="1.4" stroke-dasharray="6.8 5.5" stroke-dashoffset="0"/>
</g>
<path d="M326.7 295.5V459.2H543.7" fill="none" stroke="#3a3a3a" stroke-width="0.9"/>
<text x="323.7" y="452.3" font-size="8.6" text-anchor="end" stroke="#1a1a1a" stroke-width="0.22" >0</text>
<text x="323.7" y="433" font-size="8.6" text-anchor="end" stroke="#1a1a1a" stroke-width="0.22" >50</text>
<text x="323.7" y="413.7" font-size="8.6" text-anchor="end" stroke="#1a1a1a" stroke-width="0.22" >100</text>
<text x="323.7" y="394.4" font-size="8.6" text-anchor="end" stroke="#1a1a1a" stroke-width="0.22" >150</text>
<text x="323.7" y="375.1" font-size="8.6" text-anchor="end" stroke="#1a1a1a" stroke-width="0.22" >200</text>
<text x="323.7" y="355.8" font-size="8.6" text-anchor="end" stroke="#1a1a1a" stroke-width="0.22" >250</text>
<text x="323.7" y="336.5" font-size="8.6" text-anchor="end" stroke="#1a1a1a" stroke-width="0.22" >300</text>
<text x="323.7" y="317.2" font-size="8.6" text-anchor="end" stroke="#1a1a1a" stroke-width="0.22" >350</text>
<text x="323.7" y="297.9" font-size="8.6" text-anchor="end" stroke="#1a1a1a" stroke-width="0.22" >400</text>
<text x="327" y="470.1" font-size="8.6" text-anchor="middle" stroke="#1a1a1a" stroke-width="0.22" >0%</text>
<text x="378.75" y="470.1" font-size="8.6" text-anchor="middle" stroke="#1a1a1a" stroke-width="0.22" >1%</text>
<text x="430.5" y="470.1" font-size="8.6" text-anchor="middle" stroke="#1a1a1a" stroke-width="0.22" >2%</text>
<text x="482.25" y="470.1" font-size="8.6" text-anchor="middle" stroke="#1a1a1a" stroke-width="0.22" >3%</text>
<text x="534" y="470.1" font-size="8.6" text-anchor="middle" stroke="#1a1a1a" stroke-width="0.22" >4%</text>
<path d="M326.7 449.4h2.8M326.7 430.1h2.8M326.7 410.8h2.8M326.7 391.5h2.8M326.7 372.2h2.8M326.7 352.9h2.8M326.7 333.6h2.8M326.7 314.3h2.8M326.7 295h2.8M326.7 439.75h1.6M326.7 420.45h1.6M326.7 401.15h1.6M326.7 381.85h1.6M326.7 362.55h1.6M326.7 343.25h1.6M326.7 323.95h1.6M326.7 304.65h1.6M327 459.2v-2.6M378.75 459.2v-2.6M430.5 459.2v-2.6M482.25 459.2v-2.6M534 459.2v-2.6M352.88 459.2v-1.5M404.62 459.2v-1.5M456.38 459.2v-1.5M508.12 459.2v-1.5" stroke="#3a3a3a" stroke-width="0.8" fill="none"/>
<text transform="translate(303 377) rotate(-90)" font-size="10" font-weight="bold" font-style="italic" text-anchor="middle">M<tspan font-size="6.5" dy="1.5">u</tspan></text>
<text x="420.5" y="488" font-size="11.7" text-anchor="middle"><tspan font-weight="bold">(d)</tspan> <tspan font-style="italic">V<tspan font-size="7" dy="1.5">f</tspan></tspan><tspan dy="-1.5"> (%)</tspan></text>
<g>
<rect x="33.4" y="532.35" width="27.44" height="1.05" fill="url(#bg)" stroke="#3c635d" stroke-width="0.8"/>
<rect x="60.84" y="532.95" width="27.44" height="0.45" fill="url(#bg)" stroke="#3c635d" stroke-width="0.8"/>
<rect x="88.28" y="531" width="27.44" height="2.4" fill="url(#bg)" stroke="#3c635d" stroke-width="0.8"/>
<rect x="115.72" y="499.65" width="27.44" height="33.75" fill="url(#bg)" stroke="#3c635d" stroke-width="0.8"/>
<rect x="143.16" y="524.4" width="27.44" height="9" fill="url(#bg)" stroke="#3c635d" stroke-width="0.8"/>
<rect x="170.6" y="533.25" width="27.44" height="0.15" fill="url(#bg)" stroke="#3c635d" stroke-width="0.8"/>
<path d="M33.4 533.25C37.06 533.26 48.95 533.32 55.35 533.32C61.75 533.32 67.7 533.39 71.82 533.25C75.93 533.11 77.53 533.02 80.05 532.5C82.56 531.98 84.62 531.33 86.91 530.1C89.19 528.88 91.48 527.23 93.77 525.15C96.05 523.07 98.34 520.02 100.63 517.65C102.91 515.27 105.43 512.73 107.49 510.9C109.55 509.07 111.15 507.7 112.98 506.7C114.81 505.7 116.63 505 118.46 504.9C120.29 504.8 121.89 505.22 123.95 506.1C126.01 506.97 128.53 508.6 130.81 510.15C133.1 511.7 135.39 513.65 137.67 515.4C139.96 517.15 142.25 519.02 144.53 520.65C146.82 522.27 149.11 523.82 151.39 525.15C153.68 526.48 155.97 527.65 158.25 528.6C160.54 529.55 162.6 530.25 165.11 530.85C167.63 531.45 170.6 531.86 173.34 532.2C176.09 532.54 178.37 532.71 181.58 532.88C184.78 533.04 187.29 533.1 192.55 533.17C197.81 533.25 204.21 533.29 213.13 533.32C222.05 533.36 240.57 533.39 246.06 533.4" fill="none" stroke="#3b7d73" stroke-width="1.4"/>
<path d="M33.4 495V533.4H246.7" fill="none" stroke="#3a3a3a" stroke-width="0.9"/>
<text x="30.5" y="536.3" font-size="8.6" text-anchor="end" stroke="#1a1a1a" stroke-width="0.22" >0</text>
<text x="30.5" y="527.3" font-size="8.6" text-anchor="end" stroke="#1a1a1a" stroke-width="0.22" >60</text>
<text x="30.5" y="518.3" font-size="8.6" text-anchor="end" stroke="#1a1a1a" stroke-width="0.22" >120</text>
<text x="30.5" y="509.3" font-size="8.6" text-anchor="end" stroke="#1a1a1a" stroke-width="0.22" >180</text>
<text x="30.5" y="500.3" font-size="8.6" text-anchor="end" stroke="#1a1a1a" stroke-width="0.22" >240</text>
<text x="33.4" y="543.4" font-size="8.6" text-anchor="middle" stroke="#1a1a1a" stroke-width="0.22" >0</text>
<text x="74.56" y="543.4" font-size="8.6" text-anchor="middle" stroke="#1a1a1a" stroke-width="0.22" >30</text>
<text x="115.72" y="543.4" font-size="8.6" text-anchor="middle" stroke="#1a1a1a" stroke-width="0.22" >60</text>
<text x="156.88" y="543.4" font-size="8.6" text-anchor="middle" stroke="#1a1a1a" stroke-width="0.22" >90</text>
<text x="198.04" y="543.4" font-size="8.6" text-anchor="middle" stroke="#1a1a1a" stroke-width="0.22" >120</text>
<text x="239.2" y="543.4" font-size="8.6" text-anchor="middle" stroke="#1a1a1a" stroke-width="0.22" >150</text>
<path d="M33.4 533.4h2.6M33.4 524.4h2.6M33.4 515.4h2.6M33.4 506.4h2.6M33.4 497.4h2.6M33.4 528.9h1.5M33.4 519.9h1.5M33.4 510.9h1.5M33.4 501.9h1.5M33.4 533.4v-2.4M74.56 533.4v-2.4M115.72 533.4v-2.4M156.88 533.4v-2.4M198.04 533.4v-2.4M239.2 533.4v-2.4M53.98 533.4v-1.4M95.14 533.4v-1.4M136.3 533.4v-1.4M177.46 533.4v-1.4M218.62 533.4v-1.4" stroke="#3a3a3a" stroke-width="0.8" fill="none"/>
<text transform="translate(13.8 514.2) rotate(-90)" font-size="10.5" font-weight="bold" text-anchor="middle">Count</text>
</g>
<clipPath id="cpe"><rect x="33.4" y="544" width="216.6" height="163.3"/></clipPath>
<g clip-path="url(#cpe)">
<path d="M33.4 610.5 L38.65 610.79 L43.9 611.09 L49.15 611.38 L54.4 611.68 L59.65 611.98 L64.9 612.27 L70.15 612.56 L75.4 612.86 L80.65 613.15 L85.9 613.45 L91.15 613.75 L96.4 614.04 L101.65 614.34 L106.9 614.63 L112.15 614.92 L117.4 615.22 L122.65 615.51 L127.9 615.81 L133.15 616.11 L138.4 616.4 L143.65 616.69 L148.9 616.99 L154.15 617.28 L159.4 617.58 L164.65 617.88 L169.9 618.17 L175.15 618.46 L180.4 618.76 L185.65 619.05 L190.9 619.35 L196.15 619.64 L201.4 619.94 L206.65 620.24 L211.9 620.53 L217.15 620.82 L222.4 621.12 L227.65 621.41 L232.9 621.71 L238.15 622 L243.4 622.3 L243.4 707.3 L238.15 707.3 L232.9 707.3 L227.65 707.3 L222.4 707.3 L217.15 707.3 L211.9 707.3 L206.65 707.3 L201.4 707.3 L196.15 707.3 L190.9 707.3 L185.65 707.3 L180.4 707.3 L175.15 707.3 L169.9 707.3 L164.65 707.3 L159.4 707.3 L154.15 707.3 L148.9 707.3 L143.65 707.3 L138.4 707.3 L133.15 707.3 L127.9 707.3 L122.65 707.3 L117.4 707.3 L112.15 707.3 L106.9 707.3 L101.65 707.3 L96.4 707.3 L91.15 707.3 L85.9 707.3 L80.65 707.3 L75.4 707.3 L70.15 707.3 L64.9 707.3 L59.65 707.3 L54.4 707.3 L49.15 707.3 L43.9 707.3 L38.65 707.3 L33.4 707.3Z" fill="#e8f8ec"/>
<path d="M33.4 651.17 L38.65 652.02 L43.9 652.87 L49.15 653.72 L54.4 654.57 L59.65 655.41 L64.9 656.25 L70.15 657.08 L75.4 657.9 L80.65 658.71 L85.9 659.51 L91.15 660.29 L96.4 661.05 L101.65 661.77 L106.9 662.44 L112.15 663.05 L117.4 663.55 L122.65 663.94 L127.9 664.19 L133.15 664.31 L138.4 664.33 L143.65 664.26 L148.9 664.13 L154.15 663.96 L159.4 663.76 L164.65 663.54 L169.9 663.3 L175.15 663.05 L180.4 662.8 L185.65 662.53 L190.9 662.26 L196.15 661.99 L201.4 661.71 L206.65 661.43 L211.9 661.15 L217.15 660.86 L222.4 660.58 L227.65 660.29 L232.9 660 L238.15 659.71 L243.4 659.42 L243.4 686.58 L238.15 685.72 L232.9 684.86 L227.65 684 L222.4 683.14 L217.15 682.29 L211.9 681.43 L206.65 680.58 L201.4 679.73 L196.15 678.88 L190.9 678.04 L185.65 677.2 L180.4 676.36 L175.15 675.54 L169.9 674.72 L164.65 673.91 L159.4 673.12 L154.15 672.35 L148.9 671.61 L143.65 670.91 L138.4 670.27 L133.15 669.72 L127.9 669.27 L122.65 668.95 L117.4 668.77 L112.15 668.7 L106.9 668.74 L101.65 668.84 L96.4 668.99 L91.15 669.18 L85.9 669.39 L80.65 669.62 L75.4 669.86 L70.15 670.11 L64.9 670.37 L59.65 670.64 L54.4 670.91 L49.15 671.19 L43.9 671.47 L38.65 671.75 L33.4 672.03Z" fill="#9ae8ac"/>
</g>
<g clip-path="url(#cpe)" fill="#8acabc" stroke="#1a564a" stroke-width="1.05">
<circle cx="33.69" cy="634.3" r="1.5"/>
<circle cx="33.69" cy="637.58" r="1.5"/>
<circle cx="33.69" cy="641.96" r="1.5"/>
<circle cx="33.69" cy="647.44" r="1.5"/>
<circle cx="33.69" cy="652.91" r="1.5"/>
<circle cx="33.69" cy="657.29" r="1.5"/>
<circle cx="33.69" cy="661.67" r="1.5"/>
<circle cx="33.69" cy="666.05" r="1.5"/>
<circle cx="33.69" cy="670.43" r="1.5"/>
<circle cx="33.69" cy="674.81" r="1.5"/>
<circle cx="33.69" cy="679.19" r="1.5"/>
<circle cx="33.69" cy="682.47" r="1.5"/>
<circle cx="33.69" cy="685.76" r="1.5"/>
<circle cx="33.69" cy="689.04" r="1.5"/>
<circle cx="33.69" cy="692.33" r="1.5"/>
<circle cx="66.98" cy="643.06" r="1.5"/>
<circle cx="66.98" cy="647.44" r="1.5"/>
<circle cx="66.98" cy="649.63" r="1.5"/>
<circle cx="66.98" cy="651.82" r="1.5"/>
<circle cx="66.98" cy="654.66" r="1.5"/>
<circle cx="66.98" cy="657.29" r="1.5"/>
<circle cx="66.98" cy="659.04" r="1.5"/>
<circle cx="66.98" cy="669.77" r="1.5"/>
<circle cx="66.98" cy="673.06" r="1.5"/>
<circle cx="66.98" cy="681.38" r="1.5"/>
<circle cx="66.98" cy="685.32" r="1.5"/>
<circle cx="93.25" cy="575.18" r="1.5"/>
<circle cx="93.25" cy="576.93" r="1.5"/>
<circle cx="93.25" cy="578.47" r="1.5"/>
<circle cx="93.25" cy="608.02" r="1.5"/>
<circle cx="93.25" cy="609.12" r="1.5"/>
<circle cx="102.89" cy="631.45" r="1.5"/>
<circle cx="102.89" cy="686.85" r="1.5"/>
<circle cx="102.89" cy="688.38" r="1.5"/>
<circle cx="115.58" cy="632.77" r="1.5"/>
<circle cx="115.58" cy="643.06" r="1.5"/>
<circle cx="115.58" cy="651.16" r="1.5"/>
<circle cx="115.58" cy="658.39" r="1.5"/>
<circle cx="115.58" cy="660.58" r="1.5"/>
<circle cx="115.58" cy="662.77" r="1.5"/>
<circle cx="115.58" cy="664.96" r="1.5"/>
<circle cx="115.58" cy="667.14" r="1.5"/>
<circle cx="115.58" cy="669.99" r="1.5"/>
<circle cx="115.58" cy="672.62" r="1.5"/>
<circle cx="115.58" cy="675.25" r="1.5"/>
<circle cx="115.58" cy="678.09" r="1.5"/>
<circle cx="115.58" cy="680.28" r="1.5"/>
<circle cx="115.58" cy="682.47" r="1.5"/>
<circle cx="115.58" cy="693.42" r="1.5"/>
<circle cx="117.12" cy="652.91" r="1.5"/>
<circle cx="117.12" cy="659.48" r="1.5"/>
<circle cx="117.12" cy="663.86" r="1.5"/>
<circle cx="117.12" cy="669.33" r="1.5"/>
<circle cx="117.12" cy="675.9" r="1.5"/>
<circle cx="117.12" cy="681.38" r="1.5"/>
<circle cx="114.05" cy="661.67" r="1.5"/>
<circle cx="114.05" cy="666.05" r="1.5"/>
<circle cx="114.05" cy="672.62" r="1.5"/>
<circle cx="114.05" cy="679.19" r="1.5"/>
<circle cx="123.69" cy="563.14" r="1.5"/>
<circle cx="123.69" cy="569.27" r="1.5"/>
<circle cx="123.69" cy="571.46" r="1.5"/>
<circle cx="123.69" cy="573.65" r="1.5"/>
<circle cx="123.69" cy="576.28" r="1.5"/>
<circle cx="123.69" cy="577.37" r="1.5"/>
<circle cx="123.69" cy="583.94" r="1.5"/>
<circle cx="123.69" cy="593.14" r="1.5"/>
<circle cx="123.69" cy="607.37" r="1.5"/>
<circle cx="123.69" cy="620.51" r="1.5"/>
<circle cx="133.76" cy="662.11" r="1.5"/>
<circle cx="137.48" cy="630.36" r="1.5"/>
<circle cx="137.48" cy="645.91" r="1.5"/>
<circle cx="141.86" cy="685.76" r="1.5"/>
<circle cx="141.86" cy="687.95" r="1.5"/>
<circle cx="123.64" cy="695.55" r="1.5"/>
<circle cx="123.79" cy="693.06" r="1.5"/>
<circle cx="123.66" cy="690.72" r="1.5"/>
<circle cx="123.76" cy="688.54" r="1.5"/>
<circle cx="123.81" cy="685.81" r="1.5"/>
<circle cx="123.67" cy="683.41" r="1.5"/>
<circle cx="123.71" cy="681.19" r="1.5"/>
<circle cx="123.83" cy="678.65" r="1.5"/>
<circle cx="123.66" cy="676.4" r="1.5"/>
<circle cx="123.73" cy="674.02" r="1.5"/>
<circle cx="123.67" cy="671.63" r="1.5"/>
<circle cx="123.77" cy="669.33" r="1.5"/>
<circle cx="123.74" cy="666.77" r="1.5"/>
<circle cx="123.63" cy="664.4" r="1.5"/>
<circle cx="123.75" cy="661.93" r="1.5"/>
<circle cx="123.64" cy="659.34" r="1.5"/>
<circle cx="123.79" cy="656.94" r="1.5"/>
<circle cx="123.65" cy="654.8" r="1.5"/>
<circle cx="123.64" cy="652.2" r="1.5"/>
<circle cx="123.68" cy="650.04" r="1.5"/>
<circle cx="123.71" cy="647.33" r="1.5"/>
<circle cx="123.79" cy="645.18" r="1.5"/>
<circle cx="123.66" cy="642.52" r="1.5"/>
<circle cx="123.74" cy="640.2" r="1.5"/>
<circle cx="123.65" cy="638.04" r="1.5"/>
<circle cx="123.77" cy="635.49" r="1.5"/>
<circle cx="123.64" cy="632.88" r="1.5"/>
<circle cx="123.76" cy="630.53" r="1.5"/>
<circle cx="123.65" cy="628.1" r="1.5"/>
<circle cx="123.64" cy="625.69" r="1.5"/>
<circle cx="122.35" cy="641.1" r="1.5"/>
<circle cx="122.35" cy="652.38" r="1.5"/>
<circle cx="122.35" cy="653.13" r="1.5"/>
<circle cx="122.35" cy="661.78" r="1.5"/>
<circle cx="122.35" cy="667.42" r="1.5"/>
<circle cx="122.35" cy="674.94" r="1.5"/>
<circle cx="122.35" cy="685.09" r="1.5"/>
<circle cx="133.49" cy="662.73" r="1.5"/>
<circle cx="137.2" cy="630" r="1.5"/>
<circle cx="137.2" cy="646.37" r="1.5"/>
<circle cx="141.35" cy="686.74" r="1.5"/>
<circle cx="144.18" cy="583.53" r="1.5"/>
<circle cx="144.18" cy="610.37" r="1.5"/>
<circle cx="144.18" cy="611.89" r="1.5"/>
<circle cx="144.18" cy="613.2" r="1.5"/>
<circle cx="144.18" cy="628.91" r="1.5"/>
<circle cx="144.18" cy="631.1" r="1.5"/>
<circle cx="144.18" cy="633.28" r="1.5"/>
<circle cx="144.18" cy="639.39" r="1.5"/>
<circle cx="144.18" cy="644.19" r="1.5"/>
<circle cx="144.18" cy="647.46" r="1.5"/>
<circle cx="144.18" cy="650.73" r="1.5"/>
<circle cx="144.18" cy="654.01" r="1.5"/>
<circle cx="144.18" cy="657.28" r="1.5"/>
<circle cx="144.18" cy="661.64" r="1.5"/>
<circle cx="144.18" cy="666.01" r="1.5"/>
<circle cx="144.18" cy="669.28" r="1.5"/>
<circle cx="144.18" cy="672.55" r="1.5"/>
<circle cx="144.18" cy="675.83" r="1.5"/>
<circle cx="144.18" cy="679.1" r="1.5"/>
<circle cx="144.18" cy="683.46" r="1.5"/>
<circle cx="144.18" cy="687.83" r="1.5"/>
<circle cx="147.46" cy="654.01" r="1.5"/>
<circle cx="147.46" cy="657.28" r="1.5"/>
<circle cx="147.46" cy="663.39" r="1.5"/>
<circle cx="147.46" cy="668.19" r="1.5"/>
<circle cx="147.46" cy="674.73" r="1.5"/>
<circle cx="147.46" cy="677.35" r="1.5"/>
<circle cx="147.46" cy="682.37" r="1.5"/>
<circle cx="147.46" cy="693.94" r="1.5"/>
<circle cx="147.46" cy="695.46" r="1.5"/>
<circle cx="145.71" cy="656.19" r="1.5"/>
<circle cx="145.71" cy="663.83" r="1.5"/>
<circle cx="145.71" cy="670.37" r="1.5"/>
<circle cx="145.71" cy="676.92" r="1.5"/>
<circle cx="145.71" cy="681.28" r="1.5"/>
<circle cx="145.71" cy="693.28" r="1.5"/>
<circle cx="145.71" cy="696.12" r="1.5"/>
<circle cx="154" cy="650.3" r="1.5"/>
<circle cx="154" cy="655.1" r="1.5"/>
<circle cx="154" cy="664.92" r="1.5"/>
<circle cx="154" cy="667.1" r="1.5"/>
<circle cx="154" cy="670.37" r="1.5"/>
<circle cx="154" cy="672.55" r="1.5"/>
<circle cx="154" cy="674.3" r="1.5"/>
<circle cx="154" cy="676.48" r="1.5"/>
<circle cx="154" cy="684.55" r="1.5"/>
<circle cx="158.37" cy="664.26" r="1.5"/>
<circle cx="158.37" cy="667.1" r="1.5"/>
<circle cx="158.37" cy="671.46" r="1.5"/>
<circle cx="158.37" cy="680.63" r="1.5"/>
<circle cx="168.62" cy="669.28" r="1.5"/>
<circle cx="168.62" cy="670.37" r="1.5"/>
<circle cx="168.62" cy="676.48" r="1.5"/>
<circle cx="168.62" cy="682.37" r="1.5"/>
<circle cx="168.62" cy="683.46" r="1.5"/>
<circle cx="172.11" cy="676.48" r="1.5"/>
<circle cx="172.11" cy="681.28" r="1.5"/>
<circle cx="241.28" cy="692.19" r="1.5"/>
</g>
<g clip-path="url(#cpe)">
<path d="M33.4 651.17 L38.65 652.02 L43.9 652.87 L49.15 653.72 L54.4 654.57 L59.65 655.41 L64.9 656.25 L70.15 657.08 L75.4 657.9 L80.65 658.71 L85.9 659.51 L91.15 660.29 L96.4 661.05 L101.65 661.77 L106.9 662.44 L112.15 663.05 L117.4 663.55 L122.65 663.94 L127.9 664.19 L133.15 664.31 L138.4 664.33 L143.65 664.26 L148.9 664.13 L154.15 663.96 L159.4 663.76 L164.65 663.54 L169.9 663.3 L175.15 663.05 L180.4 662.8 L185.65 662.53 L190.9 662.26 L196.15 661.99 L201.4 661.71 L206.65 661.43 L211.9 661.15 L217.15 660.86 L222.4 660.58 L227.65 660.29 L232.9 660 L238.15 659.71 L243.4 659.42" fill="none" stroke="#2a7444" stroke-width="1.1" stroke-dasharray="2.2 1.7"/>
<path d="M33.4 672.03 L38.65 671.75 L43.9 671.47 L49.15 671.19 L54.4 670.91 L59.65 670.64 L64.9 670.37 L70.15 670.11 L75.4 669.86 L80.65 669.62 L85.9 669.39 L91.15 669.18 L96.4 668.99 L101.65 668.84 L106.9 668.74 L112.15 668.7 L117.4 668.77 L122.65 668.95 L127.9 669.27 L133.15 669.72 L138.4 670.27 L143.65 670.91 L148.9 671.61 L154.15 672.35 L159.4 673.12 L164.65 673.91 L169.9 674.72 L175.15 675.54 L180.4 676.36 L185.65 677.2 L190.9 678.04 L196.15 678.88 L201.4 679.73 L206.65 680.58 L211.9 681.43 L217.15 682.29 L222.4 683.14 L227.65 684 L232.9 684.86 L238.15 685.72 L243.4 686.58" fill="none" stroke="#2a7444" stroke-width="1.1" stroke-dasharray="2.2 1.7"/>
<path d="M33.4 661.6L243.4 673" stroke="#36e054" stroke-width="1.4"/>
<path d="M33.4 610.5L243.4 622.3" fill="none" stroke="#27b64a" stroke-width="1.4" stroke-dasharray="6.8 5.5" stroke-dashoffset="0"/>
<path d="M33.4 720L243.4 730" fill="none" stroke="#27b64a" stroke-width="1.4" stroke-dasharray="6.8 5.5" stroke-dashoffset="0"/>
</g>
<path d="M33.4 547V707.3H248" fill="none" stroke="#3a3a3a" stroke-width="0.9"/>
<text x="30.4" y="700.4" font-size="8.6" text-anchor="end" stroke="#1a1a1a" stroke-width="0.22" >0</text>
<text x="30.4" y="681.6" font-size="8.6" text-anchor="end" stroke="#1a1a1a" stroke-width="0.22" >50</text>
<text x="30.4" y="662.8" font-size="8.6" text-anchor="end" stroke="#1a1a1a" stroke-width="0.22" >100</text>
<text x="30.4" y="644" font-size="8.6" text-anchor="end" stroke="#1a1a1a" stroke-width="0.22" >150</text>
<text x="30.4" y="625.2" font-size="8.6" text-anchor="end" stroke="#1a1a1a" stroke-width="0.22" >200</text>
<text x="30.4" y="606.4" font-size="8.6" text-anchor="end" stroke="#1a1a1a" stroke-width="0.22" >250</text>
<text x="30.4" y="587.6" font-size="8.6" text-anchor="end" stroke="#1a1a1a" stroke-width="0.22" >300</text>
<text x="30.4" y="568.8" font-size="8.6" text-anchor="end" stroke="#1a1a1a" stroke-width="0.22" >350</text>
<text x="30.4" y="550" font-size="8.6" text-anchor="end" stroke="#1a1a1a" stroke-width="0.22" >400</text>
<text x="33.4" y="718.2" font-size="8.6" text-anchor="middle" stroke="#1a1a1a" stroke-width="0.22" >0</text>
<text x="74.9" y="718.2" font-size="8.6" text-anchor="middle" stroke="#1a1a1a" stroke-width="0.22" >30</text>
<text x="116.4" y="718.2" font-size="8.6" text-anchor="middle" stroke="#1a1a1a" stroke-width="0.22" >60</text>
<text x="157.9" y="718.2" font-size="8.6" text-anchor="middle" stroke="#1a1a1a" stroke-width="0.22" >90</text>
<text x="199.4" y="718.2" font-size="8.6" text-anchor="middle" stroke="#1a1a1a" stroke-width="0.22" >120</text>
<text x="240.9" y="718.2" font-size="8.6" text-anchor="middle" stroke="#1a1a1a" stroke-width="0.22" >150</text>
<path d="M33.4 697.5h2.8M33.4 678.7h2.8M33.4 659.9h2.8M33.4 641.1h2.8M33.4 622.3h2.8M33.4 603.5h2.8M33.4 584.7h2.8M33.4 565.9h2.8M33.4 547.1h2.8M33.4 688.1h1.6M33.4 669.3h1.6M33.4 650.5h1.6M33.4 631.7h1.6M33.4 612.9h1.6M33.4 594.1h1.6M33.4 575.3h1.6M33.4 556.5h1.6M33.4 707.3v-2.6M74.9 707.3v-2.6M116.4 707.3v-2.6M157.9 707.3v-2.6M199.4 707.3v-2.6M240.9 707.3v-2.6M54.15 707.3v-1.5M95.65 707.3v-1.5M137.15 707.3v-1.5M178.65 707.3v-1.5M220.15 707.3v-1.5" stroke="#3a3a3a" stroke-width="0.8" fill="none"/>
<text transform="translate(12.5 630) rotate(-90)" font-size="10" font-weight="bold" font-style="italic" text-anchor="middle">M<tspan font-size="6.5" dy="1.5">u</tspan></text>
<text x="128.5" y="733.4" font-size="11.7" text-anchor="middle"><tspan font-weight="bold">(e)</tspan> <tspan font-style="italic">L<tspan font-size="7" dy="1.5">f</tspan><tspan dy="-1.5">/d</tspan><tspan font-size="7" dy="1.5">f</tspan></tspan></text>
<g>
<rect x="354.44" y="526.59" width="14.36" height="5.61" fill="url(#bg)" stroke="#3c635d" stroke-width="0.8"/>
<rect x="368.8" y="518.43" width="14.36" height="13.77" fill="url(#bg)" stroke="#3c635d" stroke-width="0.8"/>
<rect x="383.16" y="505.68" width="14.36" height="26.52" fill="url(#bg)" stroke="#3c635d" stroke-width="0.8"/>
<rect x="397.52" y="506.7" width="14.36" height="25.5" fill="url(#bg)" stroke="#3c635d" stroke-width="0.8"/>
<rect x="411.88" y="503.64" width="14.36" height="28.56" fill="url(#bg)" stroke="#3c635d" stroke-width="0.8"/>
<rect x="426.24" y="507.72" width="14.36" height="24.48" fill="url(#bg)" stroke="#3c635d" stroke-width="0.8"/>
<rect x="440.6" y="516.39" width="14.36" height="15.81" fill="url(#bg)" stroke="#3c635d" stroke-width="0.8"/>
<rect x="454.96" y="526.59" width="14.36" height="5.61" fill="url(#bg)" stroke="#3c635d" stroke-width="0.8"/>
<rect x="469.32" y="524.55" width="14.36" height="7.65" fill="url(#bg)" stroke="#3c635d" stroke-width="0.8"/>
<rect x="483.68" y="530.67" width="14.36" height="1.53" fill="url(#bg)" stroke="#3c635d" stroke-width="0.8"/>
<rect x="498.04" y="525.06" width="14.36" height="7.14" fill="url(#bg)" stroke="#3c635d" stroke-width="0.8"/>
<rect x="512.4" y="526.59" width="14.36" height="5.61" fill="url(#bg)" stroke="#3c635d" stroke-width="0.8"/>
<path d="M325.72 531.44C327.16 531.35 331.46 531.22 334.34 530.93C337.21 530.63 340.08 530.29 342.95 529.65C345.82 529.01 348.7 528.12 351.57 527.1C354.44 526.08 357.31 524.89 360.18 523.53C363.06 522.17 365.93 520.47 368.8 518.94C371.67 517.41 374.54 515.8 377.42 514.35C380.29 512.9 383.16 511.46 386.03 510.27C388.9 509.08 391.78 507.98 394.65 507.21C397.52 506.45 400.39 506.02 403.26 505.68C406.14 505.34 409.01 505.09 411.88 505.17C414.75 505.26 417.62 505.64 420.5 506.19C423.37 506.74 426.24 507.55 429.11 508.49C431.98 509.42 434.86 510.65 437.73 511.8C440.6 512.95 443.47 514.31 446.34 515.37C449.22 516.43 452.09 517.28 454.96 518.18C457.83 519.07 460.7 519.92 463.58 520.73C466.45 521.53 469.32 522.3 472.19 523.02C475.06 523.74 477.94 524.45 480.81 525.06C483.68 525.67 486.55 526.18 489.42 526.69C492.3 527.2 495.17 527.69 498.04 528.12C500.91 528.55 503.78 528.91 506.66 529.24C509.53 529.57 512.4 529.86 515.27 530.11C518.14 530.36 521.02 530.54 523.89 530.72C526.76 530.9 529.63 531.05 532.5 531.18C535.38 531.31 539.68 531.43 541.12 531.49" fill="none" stroke="#3b7d73" stroke-width="1.4"/>
<path d="M326.4 498V532.2H541.2" fill="none" stroke="#3a3a3a" stroke-width="0.9"/>
<text x="323.5" y="535.1" font-size="8.6" text-anchor="end" stroke="#1a1a1a" stroke-width="0.22" >0</text>
<text x="323.5" y="524.9" font-size="8.6" text-anchor="end" stroke="#1a1a1a" stroke-width="0.22" >20</text>
<text x="323.5" y="514.7" font-size="8.6" text-anchor="end" stroke="#1a1a1a" stroke-width="0.22" >40</text>
<text x="323.5" y="504.5" font-size="8.6" text-anchor="end" stroke="#1a1a1a" stroke-width="0.22" >60</text>
<text x="368.8" y="542.4" font-size="8.6" text-anchor="middle" stroke="#1a1a1a" stroke-width="0.22" >100</text>
<text x="440.6" y="542.4" font-size="8.6" text-anchor="middle" stroke="#1a1a1a" stroke-width="0.22" >150</text>
<text x="512.4" y="542.4" font-size="8.6" text-anchor="middle" stroke="#1a1a1a" stroke-width="0.22" >200</text>
<path d="M326.4 532.2h2.6M326.4 522h2.6M326.4 511.8h2.6M326.4 501.6h2.6M326.4 527.1h1.5M326.4 516.9h1.5M326.4 506.7h1.5M368.8 532.2v-2.4M440.6 532.2v-2.4M512.4 532.2v-2.4M332.9 532.2v-1.4M404.7 532.2v-1.4M476.5 532.2v-1.4" stroke="#3a3a3a" stroke-width="0.8" fill="none"/>
<text transform="translate(311 515.1) rotate(-90)" font-size="10.5" font-weight="bold" text-anchor="middle">Count</text>
</g>
<clipPath id="cpf"><rect x="326.4" y="538.5" width="216.8" height="164.5"/></clipPath>
<g clip-path="url(#cpf)">
<path d="M330.7 626 L335.86 625.29 L341.01 624.59 L346.17 623.88 L351.33 623.17 L356.49 622.46 L361.64 621.75 L366.8 621.05 L371.96 620.34 L377.12 619.63 L382.27 618.93 L387.43 618.22 L392.59 617.51 L397.75 616.8 L402.9 616.1 L408.06 615.39 L413.22 614.68 L418.38 613.97 L423.53 613.26 L428.69 612.56 L433.85 611.85 L439.01 611.14 L444.16 610.44 L449.32 609.73 L454.48 609.02 L459.64 608.31 L464.79 607.61 L469.95 606.9 L475.11 606.19 L480.27 605.48 L485.42 604.78 L490.58 604.07 L495.74 603.36 L500.9 602.65 L506.06 601.95 L511.21 601.24 L516.37 600.53 L521.53 599.82 L526.68 599.12 L531.84 598.41 L537 597.7 L537 696.3 L531.84 696.92 L526.68 697.53 L521.53 698.15 L516.37 698.77 L511.21 699.39 L506.06 700 L500.9 700.62 L495.74 701.24 L490.58 701.85 L485.42 702.47 L480.27 703 L475.11 703 L469.95 703 L464.79 703 L459.64 703 L454.48 703 L449.32 703 L444.16 703 L439.01 703 L433.85 703 L428.69 703 L423.53 703 L418.38 703 L413.22 703 L408.06 703 L402.9 703 L397.75 703 L392.59 703 L387.43 703 L382.27 703 L377.12 703 L371.96 703 L366.8 703 L361.64 703 L356.49 703 L351.33 703 L346.17 703 L341.01 703 L335.86 703 L330.7 703Z" fill="#e8f8ec"/>
<path d="M330.7 667.92 L335.86 667.55 L341.01 667.18 L346.17 666.81 L351.33 666.43 L356.49 666.05 L361.64 665.67 L366.8 665.28 L371.96 664.88 L377.12 664.47 L382.27 664.05 L387.43 663.61 L392.59 663.15 L397.75 662.67 L402.9 662.15 L408.06 661.58 L413.22 660.96 L418.38 660.27 L423.53 659.51 L428.69 658.69 L433.85 657.81 L439.01 656.88 L444.16 655.91 L449.32 654.92 L454.48 653.9 L459.64 652.86 L464.79 651.82 L469.95 650.76 L475.11 649.69 L480.27 648.62 L485.42 647.54 L490.58 646.45 L495.74 645.37 L500.9 644.28 L506.06 643.18 L511.21 642.09 L516.37 640.99 L521.53 639.9 L526.68 638.8 L531.84 637.7 L537 636.6 L537 654.6 L531.84 654.96 L526.68 655.32 L521.53 655.68 L516.37 656.05 L511.21 656.41 L506.06 656.78 L500.9 657.14 L495.74 657.51 L490.58 657.89 L485.42 658.26 L480.27 658.64 L475.11 659.03 L469.95 659.42 L464.79 659.82 L459.64 660.24 L454.48 660.66 L449.32 661.1 L444.16 661.57 L439.01 662.06 L433.85 662.59 L428.69 663.17 L423.53 663.81 L418.38 664.51 L413.22 665.28 L408.06 666.12 L402.9 667.01 L397.75 667.95 L392.59 668.93 L387.43 669.93 L382.27 670.95 L377.12 671.99 L371.96 673.04 L366.8 674.1 L361.64 675.17 L356.49 676.25 L351.33 677.33 L346.17 678.41 L341.01 679.5 L335.86 680.59 L330.7 681.68Z" fill="#9ae8ac"/>
</g>
<g clip-path="url(#cpf)" fill="#8acabc" stroke="#1a564a" stroke-width="1.05">
<circle cx="332.66" cy="654.85" r="1.5"/>
<circle cx="348.72" cy="651.57" r="1.5"/>
<circle cx="337.41" cy="690.99" r="1.5"/>
<circle cx="354.2" cy="689.53" r="1.5"/>
<circle cx="356.39" cy="689.53" r="1.5"/>
<circle cx="360.22" cy="688.98" r="1.5"/>
<circle cx="366.06" cy="688.61" r="1.5"/>
<circle cx="368.8" cy="688.61" r="1.5"/>
<circle cx="372.81" cy="687.7" r="1.5"/>
<circle cx="373.36" cy="690.44" r="1.5"/>
<circle cx="368.8" cy="649.38" r="1.5"/>
<circle cx="372.81" cy="645.73" r="1.5"/>
<circle cx="377.92" cy="648.1" r="1.5"/>
<circle cx="382.48" cy="651.2" r="1.5"/>
<circle cx="383.03" cy="657.59" r="1.5"/>
<circle cx="368.8" cy="663.07" r="1.5"/>
<circle cx="368.8" cy="664.89" r="1.5"/>
<circle cx="368.8" cy="666.72" r="1.5"/>
<circle cx="368.8" cy="674.38" r="1.5"/>
<circle cx="368.8" cy="682.23" r="1.5"/>
<circle cx="368.8" cy="684.05" r="1.5"/>
<circle cx="372.99" cy="663.07" r="1.5"/>
<circle cx="372.99" cy="665.8" r="1.5"/>
<circle cx="372.99" cy="668.54" r="1.5"/>
<circle cx="372.99" cy="670.36" r="1.5"/>
<circle cx="372.99" cy="674.93" r="1.5"/>
<circle cx="372.99" cy="675.84" r="1.5"/>
<circle cx="372.99" cy="683.14" r="1.5"/>
<circle cx="379.74" cy="680.04" r="1.5"/>
<circle cx="379.74" cy="688.25" r="1.5"/>
<circle cx="383.39" cy="684.96" r="1.5"/>
<circle cx="383.03" cy="688.61" r="1.5"/>
<circle cx="384.31" cy="689.53" r="1.5"/>
<circle cx="387.04" cy="682.23" r="1.5"/>
<circle cx="387.96" cy="688.25" r="1.5"/>
<circle cx="386.13" cy="622.01" r="1.5"/>
<circle cx="386.13" cy="623.83" r="1.5"/>
<circle cx="386.13" cy="625.66" r="1.5"/>
<circle cx="386.13" cy="627.48" r="1.5"/>
<circle cx="386.13" cy="629.31" r="1.5"/>
<circle cx="386.13" cy="632.04" r="1.5"/>
<circle cx="386.13" cy="633.87" r="1.5"/>
<circle cx="386.13" cy="641.17" r="1.5"/>
<circle cx="384.85" cy="579.49" r="1.5"/>
<circle cx="384.85" cy="588.8" r="1.5"/>
<circle cx="388.5" cy="573.65" r="1.5"/>
<circle cx="388.5" cy="604.67" r="1.5"/>
<circle cx="392.88" cy="628.39" r="1.5"/>
<circle cx="390.69" cy="635.69" r="1.5"/>
<circle cx="392.88" cy="638.98" r="1.5"/>
<circle cx="388.87" cy="637.52" r="1.5"/>
<circle cx="389.23" cy="645.18" r="1.5"/>
<circle cx="390.69" cy="646.64" r="1.5"/>
<circle cx="393.43" cy="648.1" r="1.5"/>
<circle cx="389.78" cy="658.5" r="1.5"/>
<circle cx="392.88" cy="658.87" r="1.5"/>
<circle cx="389.23" cy="660.69" r="1.5"/>
<circle cx="389.78" cy="664.89" r="1.5"/>
<circle cx="389.78" cy="668.54" r="1.5"/>
<circle cx="392.52" cy="679.49" r="1.5"/>
<circle cx="394.34" cy="674.93" r="1.5"/>
<circle cx="394.71" cy="677.66" r="1.5"/>
<circle cx="394.71" cy="681.31" r="1.5"/>
<circle cx="395.26" cy="684.96" r="1.5"/>
<circle cx="396.17" cy="686.79" r="1.5"/>
<circle cx="398.91" cy="686.24" r="1.5"/>
<circle cx="398.91" cy="637.15" r="1.5"/>
<circle cx="402.55" cy="634.78" r="1.5"/>
<circle cx="405.84" cy="629.31" r="1.5"/>
<circle cx="405.84" cy="616.53" r="1.5"/>
<circle cx="410.4" cy="570.91" r="1.5"/>
<circle cx="410.4" cy="603.76" r="1.5"/>
<circle cx="401.64" cy="647.55" r="1.5"/>
<circle cx="406.2" cy="646.64" r="1.5"/>
<circle cx="405.29" cy="650.29" r="1.5"/>
<circle cx="401.64" cy="653.94" r="1.5"/>
<circle cx="403.47" cy="654.31" r="1.5"/>
<circle cx="402.55" cy="657.59" r="1.5"/>
<circle cx="405.29" cy="657.59" r="1.5"/>
<circle cx="401.64" cy="660.33" r="1.5"/>
<circle cx="405.29" cy="661.24" r="1.5"/>
<circle cx="402.55" cy="665.8" r="1.5"/>
<circle cx="404.38" cy="667.63" r="1.5"/>
<circle cx="401.64" cy="669.45" r="1.5"/>
<circle cx="405.29" cy="670.36" r="1.5"/>
<circle cx="402.55" cy="673.1" r="1.5"/>
<circle cx="404.38" cy="674.93" r="1.5"/>
<circle cx="401.64" cy="675.84" r="1.5"/>
<circle cx="401.64" cy="680.4" r="1.5"/>
<circle cx="402.55" cy="686.79" r="1.5"/>
<circle cx="404.74" cy="686.79" r="1.5"/>
<circle cx="404.74" cy="689.53" r="1.5"/>
<circle cx="408.03" cy="678.94" r="1.5"/>
<circle cx="408.94" cy="690.44" r="1.5"/>
<circle cx="410.4" cy="688.61" r="1.5"/>
<circle cx="412.23" cy="685.88" r="1.5"/>
<circle cx="412.59" cy="679.49" r="1.5"/>
<circle cx="414.42" cy="679.49" r="1.5"/>
<circle cx="409.31" cy="656.68" r="1.5"/>
<circle cx="409.31" cy="663.98" r="1.5"/>
<circle cx="412.23" cy="661.24" r="1.5"/>
<circle cx="414.42" cy="638.98" r="1.5"/>
<circle cx="414.42" cy="643.91" r="1.5"/>
<circle cx="418.43" cy="642.45" r="1.5"/>
<circle cx="418.07" cy="649.38" r="1.5"/>
<circle cx="419.89" cy="650.29" r="1.5"/>
<circle cx="416.24" cy="654.85" r="1.5"/>
<circle cx="418.07" cy="656.68" r="1.5"/>
<circle cx="419.89" cy="658.5" r="1.5"/>
<circle cx="416.24" cy="659.42" r="1.5"/>
<circle cx="418.43" cy="662.15" r="1.5"/>
<circle cx="420.8" cy="663.07" r="1.5"/>
<circle cx="416.24" cy="669.45" r="1.5"/>
<circle cx="418.98" cy="668.54" r="1.5"/>
<circle cx="420.8" cy="669.45" r="1.5"/>
<circle cx="416.24" cy="674.93" r="1.5"/>
<circle cx="417.15" cy="677.66" r="1.5"/>
<circle cx="415.88" cy="684.05" r="1.5"/>
<circle cx="418.07" cy="685.88" r="1.5"/>
<circle cx="418.98" cy="689.53" r="1.5"/>
<circle cx="419.53" cy="691.35" r="1.5"/>
<circle cx="417.15" cy="682.23" r="1.5"/>
<circle cx="423.54" cy="650.29" r="1.5"/>
<circle cx="424.45" cy="634.78" r="1.5"/>
<circle cx="424.45" cy="607.41" r="1.5"/>
<circle cx="423.54" cy="657.59" r="1.5"/>
<circle cx="423.54" cy="664.89" r="1.5"/>
<circle cx="423.54" cy="672.19" r="1.5"/>
<circle cx="424.45" cy="681.31" r="1.5"/>
<circle cx="511.17" cy="571.82" r="1.5"/>
<circle cx="436.35" cy="578.58" r="1.5"/>
<circle cx="425.58" cy="607.41" r="1.5"/>
<circle cx="436.35" cy="605.95" r="1.5"/>
<circle cx="450.22" cy="602.85" r="1.5"/>
<circle cx="489.45" cy="608.87" r="1.5"/>
<circle cx="427.41" cy="625.66" r="1.5"/>
<circle cx="436.35" cy="628.76" r="1.5"/>
<circle cx="452.41" cy="626.57" r="1.5"/>
<circle cx="452.41" cy="628.76" r="1.5"/>
<circle cx="484.89" cy="627.66" r="1.5"/>
<circle cx="496.2" cy="625.29" r="1.5"/>
<circle cx="475.22" cy="631.13" r="1.5"/>
<circle cx="475.22" cy="637.15" r="1.5"/>
<circle cx="428.14" cy="632.04" r="1.5"/>
<circle cx="425.58" cy="634.78" r="1.5"/>
<circle cx="427.41" cy="637.52" r="1.5"/>
<circle cx="427.41" cy="642.08" r="1.5"/>
<circle cx="433.25" cy="639.34" r="1.5"/>
<circle cx="435.44" cy="641.72" r="1.5"/>
<circle cx="442.01" cy="637.88" r="1.5"/>
<circle cx="446.93" cy="642.63" r="1.5"/>
<circle cx="452.41" cy="634.23" r="1.5"/>
<circle cx="452.41" cy="638.43" r="1.5"/>
<circle cx="451.5" cy="642.99" r="1.5"/>
<circle cx="456.61" cy="645.73" r="1.5"/>
<circle cx="418.28" cy="642.08" r="1.5"/>
<circle cx="418.65" cy="649.38" r="1.5"/>
<circle cx="424.12" cy="650.29" r="1.5"/>
<circle cx="427.77" cy="647.55" r="1.5"/>
<circle cx="429.6" cy="650.29" r="1.5"/>
<circle cx="433.25" cy="648.47" r="1.5"/>
<circle cx="431.79" cy="652.12" r="1.5"/>
<circle cx="434.16" cy="646.64" r="1.5"/>
<circle cx="438.72" cy="651.2" r="1.5"/>
<circle cx="444.2" cy="649.38" r="1.5"/>
<circle cx="452.41" cy="651.2" r="1.5"/>
<circle cx="456.61" cy="650.29" r="1.5"/>
<circle cx="417.74" cy="653.94" r="1.5"/>
<circle cx="418.65" cy="657.59" r="1.5"/>
<circle cx="422.3" cy="655.77" r="1.5"/>
<circle cx="426.31" cy="657.59" r="1.5"/>
<circle cx="431.42" cy="656.68" r="1.5"/>
<circle cx="436.9" cy="658.5" r="1.5"/>
<circle cx="439.64" cy="655.4" r="1.5"/>
<circle cx="442.37" cy="660.33" r="1.5"/>
<circle cx="452.41" cy="653.94" r="1.5"/>
<circle cx="453.32" cy="657.59" r="1.5"/>
<circle cx="454.23" cy="660.33" r="1.5"/>
<circle cx="416.82" cy="661.24" r="1.5"/>
<circle cx="420.47" cy="663.07" r="1.5"/>
<circle cx="422.3" cy="664.89" r="1.5"/>
<circle cx="426.31" cy="662.15" r="1.5"/>
<circle cx="429.6" cy="661.24" r="1.5"/>
<circle cx="418.65" cy="666.72" r="1.5"/>
<circle cx="423.21" cy="668.54" r="1.5"/>
<circle cx="425.04" cy="667.63" r="1.5"/>
<circle cx="420.47" cy="670.36" r="1.5"/>
<circle cx="425.95" cy="672.19" r="1.5"/>
<circle cx="427.77" cy="674.93" r="1.5"/>
<circle cx="423.21" cy="672.19" r="1.5"/>
<circle cx="438.72" cy="668.54" r="1.5"/>
<circle cx="441.46" cy="670.36" r="1.5"/>
<circle cx="444.2" cy="669.45" r="1.5"/>
<circle cx="446.93" cy="666.72" r="1.5"/>
<circle cx="439.64" cy="673.1" r="1.5"/>
<circle cx="442.37" cy="674.93" r="1.5"/>
<circle cx="445.11" cy="673.1" r="1.5"/>
<circle cx="435.07" cy="674.01" r="1.5"/>
<circle cx="440.55" cy="676.75" r="1.5"/>
<circle cx="443.28" cy="677.66" r="1.5"/>
<circle cx="444.2" cy="680.4" r="1.5"/>
<circle cx="452.41" cy="668.54" r="1.5"/>
<circle cx="456.61" cy="664.89" r="1.5"/>
<circle cx="456.61" cy="667.63" r="1.5"/>
<circle cx="456.61" cy="670.36" r="1.5"/>
<circle cx="459.71" cy="674.01" r="1.5"/>
<circle cx="456.97" cy="680.4" r="1.5"/>
<circle cx="455.15" cy="683.14" r="1.5"/>
<circle cx="460.62" cy="682.23" r="1.5"/>
<circle cx="416.82" cy="675.84" r="1.5"/>
<circle cx="418.65" cy="679.49" r="1.5"/>
<circle cx="417.74" cy="683.14" r="1.5"/>
<circle cx="424.12" cy="681.31" r="1.5"/>
<circle cx="430.51" cy="680.4" r="1.5"/>
<circle cx="435.07" cy="679.49" r="1.5"/>
<circle cx="436.9" cy="682.23" r="1.5"/>
<circle cx="433.25" cy="684.96" r="1.5"/>
<circle cx="438.72" cy="684.05" r="1.5"/>
<circle cx="442.37" cy="685.88" r="1.5"/>
<circle cx="445.11" cy="685.88" r="1.5"/>
<circle cx="429.6" cy="685.88" r="1.5"/>
<circle cx="434.16" cy="688.61" r="1.5"/>
<circle cx="433.25" cy="690.8" r="1.5"/>
<circle cx="418.65" cy="686.79" r="1.5"/>
<circle cx="419.56" cy="690.44" r="1.5"/>
<circle cx="472.48" cy="660.33" r="1.5"/>
<circle cx="472.48" cy="663.98" r="1.5"/>
<circle cx="472.48" cy="668.54" r="1.5"/>
<circle cx="469.74" cy="683.14" r="1.5"/>
<circle cx="469.74" cy="685.33" r="1.5"/>
<circle cx="469.2" cy="686.79" r="1.5"/>
<circle cx="478.32" cy="683.14" r="1.5"/>
<circle cx="479.78" cy="684.05" r="1.5"/>
<circle cx="478.87" cy="686.79" r="1.5"/>
<circle cx="482.88" cy="682.23" r="1.5"/>
<circle cx="499.85" cy="653.03" r="1.5"/>
<circle cx="499.85" cy="656.68" r="1.5"/>
<circle cx="499.85" cy="659.42" r="1.5"/>
<circle cx="499.85" cy="662.15" r="1.5"/>
<circle cx="507.15" cy="643.54" r="1.5"/>
<circle cx="508.07" cy="648.47" r="1.5"/>
<circle cx="508.07" cy="655.77" r="1.5"/>
<circle cx="508.07" cy="665.8" r="1.5"/>
<circle cx="521.16" cy="558.76" r="1.5"/>
<circle cx="521.16" cy="564.54" r="1.5"/>
<circle cx="521.16" cy="567.05" r="1.5"/>
<circle cx="521.16" cy="572.57" r="1.5"/>
<circle cx="511.12" cy="571.81" r="1.5"/>
<circle cx="535.46" cy="571.31" r="1.5"/>
<circle cx="522.92" cy="674.95" r="1.5"/>
<circle cx="524.92" cy="677.96" r="1.5"/>
<circle cx="526.18" cy="672.19" r="1.5"/>
<circle cx="529.44" cy="672.19" r="1.5"/>
<circle cx="522.92" cy="683.48" r="1.5"/>
</g>
<g clip-path="url(#cpf)">
<path d="M330.7 667.92 L335.86 667.55 L341.01 667.18 L346.17 666.81 L351.33 666.43 L356.49 666.05 L361.64 665.67 L366.8 665.28 L371.96 664.88 L377.12 664.47 L382.27 664.05 L387.43 663.61 L392.59 663.15 L397.75 662.67 L402.9 662.15 L408.06 661.58 L413.22 660.96 L418.38 660.27 L423.53 659.51 L428.69 658.69 L433.85 657.81 L439.01 656.88 L444.16 655.91 L449.32 654.92 L454.48 653.9 L459.64 652.86 L464.79 651.82 L469.95 650.76 L475.11 649.69 L480.27 648.62 L485.42 647.54 L490.58 646.45 L495.74 645.37 L500.9 644.28 L506.06 643.18 L511.21 642.09 L516.37 640.99 L521.53 639.9 L526.68 638.8 L531.84 637.7 L537 636.6" fill="none" stroke="#2a7444" stroke-width="1.1" stroke-dasharray="2.2 1.7"/>
<path d="M330.7 681.68 L335.86 680.59 L341.01 679.5 L346.17 678.41 L351.33 677.33 L356.49 676.25 L361.64 675.17 L366.8 674.1 L371.96 673.04 L377.12 671.99 L382.27 670.95 L387.43 669.93 L392.59 668.93 L397.75 667.95 L402.9 667.01 L408.06 666.12 L413.22 665.28 L418.38 664.51 L423.53 663.81 L428.69 663.17 L433.85 662.59 L439.01 662.06 L444.16 661.57 L449.32 661.1 L454.48 660.66 L459.64 660.24 L464.79 659.82 L469.95 659.42 L475.11 659.03 L480.27 658.64 L485.42 658.26 L490.58 657.89 L495.74 657.51 L500.9 657.14 L506.06 656.78 L511.21 656.41 L516.37 656.05 L521.53 655.68 L526.68 655.32 L531.84 654.96 L537 654.6" fill="none" stroke="#2a7444" stroke-width="1.1" stroke-dasharray="2.2 1.7"/>
<path d="M330.7 674.8L537 645.6" stroke="#36e054" stroke-width="1.4"/>
<path d="M330.7 626L537 597.7" fill="none" stroke="#27b64a" stroke-width="1.4" stroke-dasharray="7.3 5.6" stroke-dashoffset="0"/>
<path d="M330.7 720.98L537 696.3" fill="none" stroke="#27b64a" stroke-width="1.4" stroke-dasharray="7.3 5.6" stroke-dashoffset="0"/>
</g>
<path d="M326.4 541.5V703H541.2" fill="none" stroke="#3a3a3a" stroke-width="0.9"/>
<text x="323.4" y="696.4" font-size="8.6" text-anchor="end" stroke="#1a1a1a" stroke-width="0.22" >0</text>
<text x="323.4" y="677.35" font-size="8.6" text-anchor="end" stroke="#1a1a1a" stroke-width="0.22" >50</text>
<text x="323.4" y="658.3" font-size="8.6" text-anchor="end" stroke="#1a1a1a" stroke-width="0.22" >100</text>
<text x="323.4" y="639.25" font-size="8.6" text-anchor="end" stroke="#1a1a1a" stroke-width="0.22" >150</text>
<text x="323.4" y="620.2" font-size="8.6" text-anchor="end" stroke="#1a1a1a" stroke-width="0.22" >200</text>
<text x="323.4" y="601.15" font-size="8.6" text-anchor="end" stroke="#1a1a1a" stroke-width="0.22" >250</text>
<text x="323.4" y="582.1" font-size="8.6" text-anchor="end" stroke="#1a1a1a" stroke-width="0.22" >300</text>
<text x="323.4" y="563.05" font-size="8.6" text-anchor="end" stroke="#1a1a1a" stroke-width="0.22" >350</text>
<text x="323.4" y="544" font-size="8.6" text-anchor="end" stroke="#1a1a1a" stroke-width="0.22" >400</text>
<text x="340.2" y="713.9" font-size="8.6" text-anchor="middle" stroke="#1a1a1a" stroke-width="0.22" >80</text>
<text x="368.8" y="713.9" font-size="8.6" text-anchor="middle" stroke="#1a1a1a" stroke-width="0.22" >100</text>
<text x="397.4" y="713.9" font-size="8.6" text-anchor="middle" stroke="#1a1a1a" stroke-width="0.22" >120</text>
<text x="426" y="713.9" font-size="8.6" text-anchor="middle" stroke="#1a1a1a" stroke-width="0.22" >140</text>
<text x="454.6" y="713.9" font-size="8.6" text-anchor="middle" stroke="#1a1a1a" stroke-width="0.22" >160</text>
<text x="483.2" y="713.9" font-size="8.6" text-anchor="middle" stroke="#1a1a1a" stroke-width="0.22" >180</text>
<text x="511.8" y="713.9" font-size="8.6" text-anchor="middle" stroke="#1a1a1a" stroke-width="0.22" >200</text>
<text x="540.4" y="713.9" font-size="8.6" text-anchor="middle" stroke="#1a1a1a" stroke-width="0.22" >220</text>
<path d="M326.4 693.5h2.8M326.4 674.45h2.8M326.4 655.4h2.8M326.4 636.35h2.8M326.4 617.3h2.8M326.4 598.25h2.8M326.4 579.2h2.8M326.4 560.15h2.8M326.4 541.1h2.8M326.4 683.98h1.6M326.4 664.92h1.6M326.4 645.88h1.6M326.4 626.83h1.6M326.4 607.77h1.6M326.4 588.73h1.6M326.4 569.67h1.6M326.4 550.62h1.6M340.2 703v-2.6M368.8 703v-2.6M397.4 703v-2.6M426 703v-2.6M454.6 703v-2.6M483.2 703v-2.6M511.8 703v-2.6M540.4 703v-2.6M354.5 703v-1.5M383.1 703v-1.5M411.7 703v-1.5M440.3 703v-1.5M468.9 703v-1.5M497.5 703v-1.5M526.1 703v-1.5" stroke="#3a3a3a" stroke-width="0.8" fill="none"/>
<text transform="translate(303 625) rotate(-90)" font-size="10" font-weight="bold" font-style="italic" text-anchor="middle">M<tspan font-size="6.5" dy="1.5">u</tspan></text>
<text x="420.5" y="733.4" font-size="11.7" text-anchor="middle"><tspan font-weight="bold">(f)</tspan> <tspan font-style="italic">f<tspan font-size="7" dy="1.5">c</tspan></tspan><tspan dy="-1.5"> (MPa)</tspan></text>
</svg></body></html>
